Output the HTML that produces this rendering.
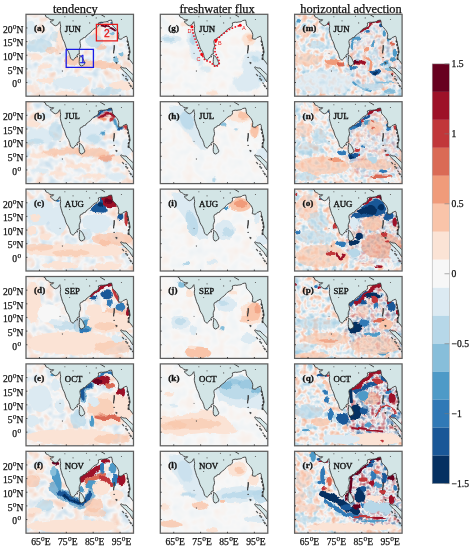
<!DOCTYPE html>
<html><head><meta charset="utf-8"><style>
html,body{margin:0;padding:0;background:#fff;}
body{width:473px;height:550px;position:relative;overflow:hidden;font-family:"Liberation Serif","Times New Roman",serif;color:#111;-webkit-text-stroke-width:0.25px;}
.map{position:absolute;display:block;}
.ov{position:absolute;left:0;top:0;}
.ov rect{fill:none;stroke:#5e5e5e;stroke-width:1.25;}
.L{fill:#d3e5e6;}
.C{fill:none;stroke:#333;stroke-width:0.85;vector-effect:non-scaling-stroke;}
polygon.L.C{fill:#d3e5e6;}
.plab{position:absolute;font-weight:bold;font-size:9.2px;line-height:10px;-webkit-text-stroke-width:0.3px;}
.mon{position:absolute;font-size:8.8px;line-height:10px;-webkit-text-stroke-width:0.35px;}
.red{position:absolute;color:#e61a1a;font-family:"Liberation Sans",sans-serif;line-height:10px;-webkit-text-stroke-width:0;}
.blu{position:absolute;color:#1a1ae6;font-family:"Liberation Sans",sans-serif;line-height:10px;-webkit-text-stroke-width:0;}
.ttl{position:absolute;text-align:center;font-size:12.4px;line-height:16px;white-space:nowrap;}
.yl{position:absolute;font-size:9.6px;line-height:13px;white-space:nowrap;text-align:right;}
.xl{position:absolute;width:60px;text-align:center;font-size:9.6px;line-height:13px;white-space:nowrap;}
sup{font-size:7.4px;vertical-align:0;position:relative;top:-3.9px;margin-left:0.3px;}
.cbs{position:absolute;left:0;top:0;}
.cb div{width:100%;}
.cbt{position:absolute;font-size:9.6px;line-height:14px;white-space:nowrap;}
.tk{position:absolute;width:3px;height:1px;background:#555;}
</style></head><body>
<svg width="0" height="0" style="position:absolute"><defs><filter id="bl" x="0" y="0" width="473" height="359" filterUnits="userSpaceOnUse" color-interpolation-filters="sRGB"><feTurbulence type="fractalNoise" baseFrequency="0.03" numOctaves="2" seed="7" result="t"/><feDisplacementMap in="SourceGraphic" in2="t" scale="20" xChannelSelector="R" yChannelSelector="G" result="d"/><feGaussianBlur in="d" stdDeviation="3.3"/></filter><clipPath id="bay"><polygon points="228,200 236,110 300,62 372,28 412,85 452,105 462,200 473,230 473,320 300,330 240,300 215,240"/></clipPath><filter id="nzT0" x="0" y="0" width="100%" height="100%" color-interpolation-filters="sRGB"><feTurbulence type="fractalNoise" baseFrequency="0.024" numOctaves="2" seed="10"/><feColorMatrix type="matrix" values="1 0 0 0 0  1 0 0 0 0  1 0 0 0 0  0 0 0 0 1"/><feComponentTransfer><feFuncR type="table" tableValues="0.769 0.769 0.777 0.841 0.905 0.969 0.971 0.974 0.976 0.976 0.976"/><feFuncG type="table" tableValues="0.863 0.863 0.867 0.901 0.935 0.969 0.916 0.863 0.811 0.804 0.804"/><feFuncB type="table" tableValues="0.925 0.925 0.927 0.941 0.955 0.969 0.887 0.806 0.724 0.714 0.714"/><feFuncA type="linear" slope="0" intercept="0.8"/></feComponentTransfer></filter><filter id="nzF0" x="0" y="0" width="100%" height="100%" color-interpolation-filters="sRGB"><feTurbulence type="fractalNoise" baseFrequency="0.02" numOctaves="2" seed="20"/><feColorMatrix type="matrix" values="1 0 0 0 0  1 0 0 0 0  1 0 0 0 0  0 0 0 0 1"/><feComponentTransfer><feFuncR type="table" tableValues="0.863 0.863 0.867 0.901 0.935 0.969 0.974 0.979 0.984 0.984 0.984"/><feFuncG type="table" tableValues="0.918 0.918 0.920 0.936 0.953 0.969 0.944 0.919 0.893 0.890 0.890"/><feFuncB type="table" tableValues="0.949 0.949 0.950 0.956 0.963 0.969 0.926 0.883 0.841 0.835 0.835"/><feFuncA type="linear" slope="0" intercept="0.35"/></feComponentTransfer></filter><filter id="nzS0" x="0" y="0" width="100%" height="100%" color-interpolation-filters="sRGB"><feTurbulence type="fractalNoise" baseFrequency="0.045" numOctaves="2" seed="40"/><feColorMatrix type="matrix" values="1 0 0 0 0  1 0 0 0 0  1 0 0 0 0  0 0 0 0 1"/><feComponentTransfer><feFuncR type="table" tableValues="0.098 0.098 0.133 0.412 0.690 0.969 0.856 0.743 0.630 0.616 0.616"/><feFuncG type="table" tableValues="0.341 0.341 0.366 0.567 0.768 0.969 0.680 0.392 0.103 0.067 0.067"/><feFuncB type="table" tableValues="0.592 0.592 0.607 0.728 0.848 0.969 0.709 0.449 0.189 0.157 0.157"/><feFuncA type="linear" slope="0" intercept="1"/></feComponentTransfer></filter><filter id="nzA0" x="0" y="0" width="100%" height="100%" color-interpolation-filters="sRGB"><feTurbulence type="fractalNoise" baseFrequency="0.038" numOctaves="2" seed="30"/><feColorMatrix type="matrix" values="1 0 0 0 0  1 0 0 0 0  1 0 0 0 0  0 0 0 0 1"/><feComponentTransfer><feFuncR type="table" tableValues="0.612 0.612 0.626 0.740 0.855 0.969 0.966 0.964 0.961 0.961 0.961"/><feFuncG type="table" tableValues="0.792 0.792 0.799 0.856 0.912 0.969 0.880 0.791 0.701 0.690 0.690"/><feFuncB type="table" tableValues="0.886 0.886 0.890 0.916 0.943 0.969 0.840 0.710 0.581 0.565 0.565"/><feFuncA type="linear" slope="0" intercept="0.9"/></feComponentTransfer></filter><filter id="nzT1" x="0" y="0" width="100%" height="100%" color-interpolation-filters="sRGB"><feTurbulence type="fractalNoise" baseFrequency="0.024" numOctaves="2" seed="11"/><feColorMatrix type="matrix" values="1 0 0 0 0  1 0 0 0 0  1 0 0 0 0  0 0 0 0 1"/><feComponentTransfer><feFuncR type="table" tableValues="0.769 0.769 0.777 0.841 0.905 0.969 0.971 0.974 0.976 0.976 0.976"/><feFuncG type="table" tableValues="0.863 0.863 0.867 0.901 0.935 0.969 0.916 0.863 0.811 0.804 0.804"/><feFuncB type="table" tableValues="0.925 0.925 0.927 0.941 0.955 0.969 0.887 0.806 0.724 0.714 0.714"/><feFuncA type="linear" slope="0" intercept="0.8"/></feComponentTransfer></filter><filter id="nzF1" x="0" y="0" width="100%" height="100%" color-interpolation-filters="sRGB"><feTurbulence type="fractalNoise" baseFrequency="0.02" numOctaves="2" seed="21"/><feColorMatrix type="matrix" values="1 0 0 0 0  1 0 0 0 0  1 0 0 0 0  0 0 0 0 1"/><feComponentTransfer><feFuncR type="table" tableValues="0.863 0.863 0.867 0.901 0.935 0.969 0.974 0.979 0.984 0.984 0.984"/><feFuncG type="table" tableValues="0.918 0.918 0.920 0.936 0.953 0.969 0.944 0.919 0.893 0.890 0.890"/><feFuncB type="table" tableValues="0.949 0.949 0.950 0.956 0.963 0.969 0.926 0.883 0.841 0.835 0.835"/><feFuncA type="linear" slope="0" intercept="0.35"/></feComponentTransfer></filter><filter id="nzS1" x="0" y="0" width="100%" height="100%" color-interpolation-filters="sRGB"><feTurbulence type="fractalNoise" baseFrequency="0.045" numOctaves="2" seed="41"/><feColorMatrix type="matrix" values="1 0 0 0 0  1 0 0 0 0  1 0 0 0 0  0 0 0 0 1"/><feComponentTransfer><feFuncR type="table" tableValues="0.098 0.098 0.133 0.412 0.690 0.969 0.856 0.743 0.630 0.616 0.616"/><feFuncG type="table" tableValues="0.341 0.341 0.366 0.567 0.768 0.969 0.680 0.392 0.103 0.067 0.067"/><feFuncB type="table" tableValues="0.592 0.592 0.607 0.728 0.848 0.969 0.709 0.449 0.189 0.157 0.157"/><feFuncA type="linear" slope="0" intercept="1"/></feComponentTransfer></filter><filter id="nzA1" x="0" y="0" width="100%" height="100%" color-interpolation-filters="sRGB"><feTurbulence type="fractalNoise" baseFrequency="0.038" numOctaves="2" seed="31"/><feColorMatrix type="matrix" values="1 0 0 0 0  1 0 0 0 0  1 0 0 0 0  0 0 0 0 1"/><feComponentTransfer><feFuncR type="table" tableValues="0.612 0.612 0.626 0.740 0.855 0.969 0.966 0.964 0.961 0.961 0.961"/><feFuncG type="table" tableValues="0.792 0.792 0.799 0.856 0.912 0.969 0.880 0.791 0.701 0.690 0.690"/><feFuncB type="table" tableValues="0.886 0.886 0.890 0.916 0.943 0.969 0.840 0.710 0.581 0.565 0.565"/><feFuncA type="linear" slope="0" intercept="0.9"/></feComponentTransfer></filter><filter id="nzT2" x="0" y="0" width="100%" height="100%" color-interpolation-filters="sRGB"><feTurbulence type="fractalNoise" baseFrequency="0.024" numOctaves="2" seed="12"/><feColorMatrix type="matrix" values="1 0 0 0 0  1 0 0 0 0  1 0 0 0 0  0 0 0 0 1"/><feComponentTransfer><feFuncR type="table" tableValues="0.769 0.769 0.777 0.841 0.905 0.969 0.971 0.974 0.976 0.976 0.976"/><feFuncG type="table" tableValues="0.863 0.863 0.867 0.901 0.935 0.969 0.916 0.863 0.811 0.804 0.804"/><feFuncB type="table" tableValues="0.925 0.925 0.927 0.941 0.955 0.969 0.887 0.806 0.724 0.714 0.714"/><feFuncA type="linear" slope="0" intercept="0.8"/></feComponentTransfer></filter><filter id="nzF2" x="0" y="0" width="100%" height="100%" color-interpolation-filters="sRGB"><feTurbulence type="fractalNoise" baseFrequency="0.02" numOctaves="2" seed="22"/><feColorMatrix type="matrix" values="1 0 0 0 0  1 0 0 0 0  1 0 0 0 0  0 0 0 0 1"/><feComponentTransfer><feFuncR type="table" tableValues="0.863 0.863 0.867 0.901 0.935 0.969 0.974 0.979 0.984 0.984 0.984"/><feFuncG type="table" tableValues="0.918 0.918 0.920 0.936 0.953 0.969 0.944 0.919 0.893 0.890 0.890"/><feFuncB type="table" tableValues="0.949 0.949 0.950 0.956 0.963 0.969 0.926 0.883 0.841 0.835 0.835"/><feFuncA type="linear" slope="0" intercept="0.35"/></feComponentTransfer></filter><filter id="nzS2" x="0" y="0" width="100%" height="100%" color-interpolation-filters="sRGB"><feTurbulence type="fractalNoise" baseFrequency="0.045" numOctaves="2" seed="42"/><feColorMatrix type="matrix" values="1 0 0 0 0  1 0 0 0 0  1 0 0 0 0  0 0 0 0 1"/><feComponentTransfer><feFuncR type="table" tableValues="0.098 0.098 0.133 0.412 0.690 0.969 0.856 0.743 0.630 0.616 0.616"/><feFuncG type="table" tableValues="0.341 0.341 0.366 0.567 0.768 0.969 0.680 0.392 0.103 0.067 0.067"/><feFuncB type="table" tableValues="0.592 0.592 0.607 0.728 0.848 0.969 0.709 0.449 0.189 0.157 0.157"/><feFuncA type="linear" slope="0" intercept="1"/></feComponentTransfer></filter><filter id="nzA2" x="0" y="0" width="100%" height="100%" color-interpolation-filters="sRGB"><feTurbulence type="fractalNoise" baseFrequency="0.038" numOctaves="2" seed="32"/><feColorMatrix type="matrix" values="1 0 0 0 0  1 0 0 0 0  1 0 0 0 0  0 0 0 0 1"/><feComponentTransfer><feFuncR type="table" tableValues="0.612 0.612 0.626 0.740 0.855 0.969 0.966 0.964 0.961 0.961 0.961"/><feFuncG type="table" tableValues="0.792 0.792 0.799 0.856 0.912 0.969 0.880 0.791 0.701 0.690 0.690"/><feFuncB type="table" tableValues="0.886 0.886 0.890 0.916 0.943 0.969 0.840 0.710 0.581 0.565 0.565"/><feFuncA type="linear" slope="0" intercept="0.9"/></feComponentTransfer></filter><filter id="nzT3" x="0" y="0" width="100%" height="100%" color-interpolation-filters="sRGB"><feTurbulence type="fractalNoise" baseFrequency="0.024" numOctaves="2" seed="13"/><feColorMatrix type="matrix" values="1 0 0 0 0  1 0 0 0 0  1 0 0 0 0  0 0 0 0 1"/><feComponentTransfer><feFuncR type="table" tableValues="0.769 0.769 0.777 0.841 0.905 0.969 0.971 0.974 0.976 0.976 0.976"/><feFuncG type="table" tableValues="0.863 0.863 0.867 0.901 0.935 0.969 0.916 0.863 0.811 0.804 0.804"/><feFuncB type="table" tableValues="0.925 0.925 0.927 0.941 0.955 0.969 0.887 0.806 0.724 0.714 0.714"/><feFuncA type="linear" slope="0" intercept="0.8"/></feComponentTransfer></filter><filter id="nzF3" x="0" y="0" width="100%" height="100%" color-interpolation-filters="sRGB"><feTurbulence type="fractalNoise" baseFrequency="0.02" numOctaves="2" seed="23"/><feColorMatrix type="matrix" values="1 0 0 0 0  1 0 0 0 0  1 0 0 0 0  0 0 0 0 1"/><feComponentTransfer><feFuncR type="table" tableValues="0.863 0.863 0.867 0.901 0.935 0.969 0.974 0.979 0.984 0.984 0.984"/><feFuncG type="table" tableValues="0.918 0.918 0.920 0.936 0.953 0.969 0.944 0.919 0.893 0.890 0.890"/><feFuncB type="table" tableValues="0.949 0.949 0.950 0.956 0.963 0.969 0.926 0.883 0.841 0.835 0.835"/><feFuncA type="linear" slope="0" intercept="0.35"/></feComponentTransfer></filter><filter id="nzS3" x="0" y="0" width="100%" height="100%" color-interpolation-filters="sRGB"><feTurbulence type="fractalNoise" baseFrequency="0.045" numOctaves="2" seed="43"/><feColorMatrix type="matrix" values="1 0 0 0 0  1 0 0 0 0  1 0 0 0 0  0 0 0 0 1"/><feComponentTransfer><feFuncR type="table" tableValues="0.098 0.098 0.133 0.412 0.690 0.969 0.856 0.743 0.630 0.616 0.616"/><feFuncG type="table" tableValues="0.341 0.341 0.366 0.567 0.768 0.969 0.680 0.392 0.103 0.067 0.067"/><feFuncB type="table" tableValues="0.592 0.592 0.607 0.728 0.848 0.969 0.709 0.449 0.189 0.157 0.157"/><feFuncA type="linear" slope="0" intercept="1"/></feComponentTransfer></filter><filter id="nzA3" x="0" y="0" width="100%" height="100%" color-interpolation-filters="sRGB"><feTurbulence type="fractalNoise" baseFrequency="0.038" numOctaves="2" seed="33"/><feColorMatrix type="matrix" values="1 0 0 0 0  1 0 0 0 0  1 0 0 0 0  0 0 0 0 1"/><feComponentTransfer><feFuncR type="table" tableValues="0.612 0.612 0.626 0.740 0.855 0.969 0.966 0.964 0.961 0.961 0.961"/><feFuncG type="table" tableValues="0.792 0.792 0.799 0.856 0.912 0.969 0.880 0.791 0.701 0.690 0.690"/><feFuncB type="table" tableValues="0.886 0.886 0.890 0.916 0.943 0.969 0.840 0.710 0.581 0.565 0.565"/><feFuncA type="linear" slope="0" intercept="0.9"/></feComponentTransfer></filter><filter id="nzT4" x="0" y="0" width="100%" height="100%" color-interpolation-filters="sRGB"><feTurbulence type="fractalNoise" baseFrequency="0.024" numOctaves="2" seed="14"/><feColorMatrix type="matrix" values="1 0 0 0 0  1 0 0 0 0  1 0 0 0 0  0 0 0 0 1"/><feComponentTransfer><feFuncR type="table" tableValues="0.769 0.769 0.777 0.841 0.905 0.969 0.971 0.974 0.976 0.976 0.976"/><feFuncG type="table" tableValues="0.863 0.863 0.867 0.901 0.935 0.969 0.916 0.863 0.811 0.804 0.804"/><feFuncB type="table" tableValues="0.925 0.925 0.927 0.941 0.955 0.969 0.887 0.806 0.724 0.714 0.714"/><feFuncA type="linear" slope="0" intercept="0.8"/></feComponentTransfer></filter><filter id="nzF4" x="0" y="0" width="100%" height="100%" color-interpolation-filters="sRGB"><feTurbulence type="fractalNoise" baseFrequency="0.02" numOctaves="2" seed="24"/><feColorMatrix type="matrix" values="1 0 0 0 0  1 0 0 0 0  1 0 0 0 0  0 0 0 0 1"/><feComponentTransfer><feFuncR type="table" tableValues="0.863 0.863 0.867 0.901 0.935 0.969 0.974 0.979 0.984 0.984 0.984"/><feFuncG type="table" tableValues="0.918 0.918 0.920 0.936 0.953 0.969 0.944 0.919 0.893 0.890 0.890"/><feFuncB type="table" tableValues="0.949 0.949 0.950 0.956 0.963 0.969 0.926 0.883 0.841 0.835 0.835"/><feFuncA type="linear" slope="0" intercept="0.35"/></feComponentTransfer></filter><filter id="nzS4" x="0" y="0" width="100%" height="100%" color-interpolation-filters="sRGB"><feTurbulence type="fractalNoise" baseFrequency="0.045" numOctaves="2" seed="44"/><feColorMatrix type="matrix" values="1 0 0 0 0  1 0 0 0 0  1 0 0 0 0  0 0 0 0 1"/><feComponentTransfer><feFuncR type="table" tableValues="0.098 0.098 0.133 0.412 0.690 0.969 0.856 0.743 0.630 0.616 0.616"/><feFuncG type="table" tableValues="0.341 0.341 0.366 0.567 0.768 0.969 0.680 0.392 0.103 0.067 0.067"/><feFuncB type="table" tableValues="0.592 0.592 0.607 0.728 0.848 0.969 0.709 0.449 0.189 0.157 0.157"/><feFuncA type="linear" slope="0" intercept="1"/></feComponentTransfer></filter><filter id="nzA4" x="0" y="0" width="100%" height="100%" color-interpolation-filters="sRGB"><feTurbulence type="fractalNoise" baseFrequency="0.038" numOctaves="2" seed="34"/><feColorMatrix type="matrix" values="1 0 0 0 0  1 0 0 0 0  1 0 0 0 0  0 0 0 0 1"/><feComponentTransfer><feFuncR type="table" tableValues="0.612 0.612 0.626 0.740 0.855 0.969 0.966 0.964 0.961 0.961 0.961"/><feFuncG type="table" tableValues="0.792 0.792 0.799 0.856 0.912 0.969 0.880 0.791 0.701 0.690 0.690"/><feFuncB type="table" tableValues="0.886 0.886 0.890 0.916 0.943 0.969 0.840 0.710 0.581 0.565 0.565"/><feFuncA type="linear" slope="0" intercept="0.9"/></feComponentTransfer></filter><filter id="nzT5" x="0" y="0" width="100%" height="100%" color-interpolation-filters="sRGB"><feTurbulence type="fractalNoise" baseFrequency="0.024" numOctaves="2" seed="15"/><feColorMatrix type="matrix" values="1 0 0 0 0  1 0 0 0 0  1 0 0 0 0  0 0 0 0 1"/><feComponentTransfer><feFuncR type="table" tableValues="0.769 0.769 0.777 0.841 0.905 0.969 0.971 0.974 0.976 0.976 0.976"/><feFuncG type="table" tableValues="0.863 0.863 0.867 0.901 0.935 0.969 0.916 0.863 0.811 0.804 0.804"/><feFuncB type="table" tableValues="0.925 0.925 0.927 0.941 0.955 0.969 0.887 0.806 0.724 0.714 0.714"/><feFuncA type="linear" slope="0" intercept="0.8"/></feComponentTransfer></filter><filter id="nzF5" x="0" y="0" width="100%" height="100%" color-interpolation-filters="sRGB"><feTurbulence type="fractalNoise" baseFrequency="0.02" numOctaves="2" seed="25"/><feColorMatrix type="matrix" values="1 0 0 0 0  1 0 0 0 0  1 0 0 0 0  0 0 0 0 1"/><feComponentTransfer><feFuncR type="table" tableValues="0.863 0.863 0.867 0.901 0.935 0.969 0.974 0.979 0.984 0.984 0.984"/><feFuncG type="table" tableValues="0.918 0.918 0.920 0.936 0.953 0.969 0.944 0.919 0.893 0.890 0.890"/><feFuncB type="table" tableValues="0.949 0.949 0.950 0.956 0.963 0.969 0.926 0.883 0.841 0.835 0.835"/><feFuncA type="linear" slope="0" intercept="0.35"/></feComponentTransfer></filter><filter id="nzS5" x="0" y="0" width="100%" height="100%" color-interpolation-filters="sRGB"><feTurbulence type="fractalNoise" baseFrequency="0.045" numOctaves="2" seed="45"/><feColorMatrix type="matrix" values="1 0 0 0 0  1 0 0 0 0  1 0 0 0 0  0 0 0 0 1"/><feComponentTransfer><feFuncR type="table" tableValues="0.098 0.098 0.133 0.412 0.690 0.969 0.856 0.743 0.630 0.616 0.616"/><feFuncG type="table" tableValues="0.341 0.341 0.366 0.567 0.768 0.969 0.680 0.392 0.103 0.067 0.067"/><feFuncB type="table" tableValues="0.592 0.592 0.607 0.728 0.848 0.969 0.709 0.449 0.189 0.157 0.157"/><feFuncA type="linear" slope="0" intercept="1"/></feComponentTransfer></filter><filter id="nzA5" x="0" y="0" width="100%" height="100%" color-interpolation-filters="sRGB"><feTurbulence type="fractalNoise" baseFrequency="0.038" numOctaves="2" seed="35"/><feColorMatrix type="matrix" values="1 0 0 0 0  1 0 0 0 0  1 0 0 0 0  0 0 0 0 1"/><feComponentTransfer><feFuncR type="table" tableValues="0.612 0.612 0.626 0.740 0.855 0.969 0.966 0.964 0.961 0.961 0.961"/><feFuncG type="table" tableValues="0.792 0.792 0.799 0.856 0.912 0.969 0.880 0.791 0.701 0.690 0.690"/><feFuncB type="table" tableValues="0.886 0.886 0.890 0.916 0.943 0.969 0.840 0.710 0.581 0.565 0.565"/><feFuncA type="linear" slope="0" intercept="0.9"/></feComponentTransfer></filter><g id="land"><polygon class="L" points="78.0,-7.2 78.0,0.0 79.2,1.8 85.1,3.6 87.5,12.0 94.6,15.6 99.3,18.0 104.1,22.7 112.3,25.1 121.8,25.1 118.2,29.9 108.8,31.1 105.8,33.5 113.5,40.7 123.0,49.1 130.1,51.5 136.0,49.1 143.1,44.3 145.4,38.3 149.0,33.5 150.2,40.7 151.4,46.7 152.5,55.0 150.8,65.8 151.4,73.0 153.7,83.8 157.3,95.7 160.8,107.7 163.2,113.7 166.7,119.7 170.3,128.0 173.8,140.0 175.6,146.0 179.7,154.4 182.1,158.0 186.8,165.1 188.6,169.9 191.6,177.1 192.7,180.7 193.9,186.7 196.3,193.9 201.0,199.3 207.5,202.5 214.0,196.3 215.2,192.7 221.1,187.9 228.2,187.9 224.1,183.1 228.2,175.9 234.7,175.9 234.7,169.9 234.1,161.6 234.7,155.6 238.9,144.8 240.0,137.6 238.3,129.2 237.1,119.7 240.0,112.5 246.0,110.1 250.7,108.3 251.9,104.1 256.6,103.5 263.7,100.5 263.7,96.9 268.4,93.3 275.5,87.4 283.8,81.4 290.9,73.0 296.8,67.0 305.1,62.2 312.2,59.8 318.1,52.7 319.3,45.5 318.1,39.5 325.2,37.1 331.1,35.9 334.6,36.5 339.4,36.5 344.1,35.3 350.0,34.7 355.9,33.5 359.5,32.3 361.8,29.9 364.2,28.7 370.1,27.5 376.0,26.3 378.4,33.5 379.6,43.1 381.9,51.5 385.5,55.0 389.0,58.6 392.6,62.2 397.3,68.2 402.0,74.2 405.6,81.4 408.0,89.8 408.0,96.9 405.6,107.7 409.1,108.9 413.9,110.1 418.6,110.7 423.3,107.7 428.1,102.9 435.2,100.5 441.1,96.9 445.2,101.7 445.8,108.9 447.0,116.1 450.5,125.7 451.7,137.6 455.3,149.6 456.4,158.0 457.6,167.5 455.3,175.9 452.9,183.1 452.9,191.5 452.9,201.0 456.4,199.8 460.0,204.6 464.7,210.6 469.5,217.8 473.0,222.6 480.1,227.4 480.1,-7.2"/>
<polyline class="C" points="78.0,0.0 79.2,1.8 85.1,3.6 87.5,12.0 94.6,15.6 99.3,18.0 104.1,22.7 112.3,25.1 121.8,25.1 118.2,29.9 108.8,31.1 105.8,33.5 113.5,40.7 123.0,49.1 130.1,51.5 136.0,49.1 143.1,44.3 145.4,38.3 149.0,33.5 150.2,40.7 151.4,46.7 152.5,55.0 150.8,65.8 151.4,73.0 153.7,83.8 157.3,95.7 160.8,107.7 163.2,113.7 166.7,119.7 170.3,128.0 173.8,140.0 175.6,146.0 179.7,154.4 182.1,158.0 186.8,165.1 188.6,169.9 191.6,177.1 192.7,180.7 193.9,186.7 196.3,193.9 201.0,199.3 207.5,202.5 214.0,196.3 215.2,192.7 221.1,187.9 228.2,187.9 224.1,183.1 228.2,175.9 234.7,175.9 234.7,169.9 234.1,161.6 234.7,155.6 238.9,144.8 240.0,137.6 238.3,129.2 237.1,119.7 240.0,112.5 246.0,110.1 250.7,108.3 251.9,104.1 256.6,103.5 263.7,100.5 263.7,96.9 268.4,93.3 275.5,87.4 283.8,81.4 290.9,73.0 296.8,67.0 305.1,62.2 312.2,59.8 318.1,52.7 319.3,45.5 318.1,39.5 325.2,37.1 331.1,35.9 334.6,36.5 339.4,36.5 344.1,35.3 350.0,34.7 355.9,33.5 359.5,32.3 361.8,29.9 364.2,28.7 370.1,27.5 376.0,26.3 378.4,33.5 379.6,43.1 381.9,51.5 385.5,55.0 389.0,58.6 392.6,62.2 397.3,68.2 402.0,74.2 405.6,81.4 408.0,89.8 408.0,96.9 405.6,107.7 409.1,108.9 413.9,110.1 418.6,110.7 423.3,107.7 428.1,102.9 435.2,100.5 441.1,96.9 445.2,101.7 445.8,108.9 447.0,116.1 450.5,125.7 451.7,137.6 455.3,149.6 456.4,158.0 457.6,167.5 455.3,175.9 452.9,183.1 452.9,191.5 452.9,201.0 456.4,199.8 460.0,204.6 464.7,210.6 469.5,217.8 473.0,222.6"/>
<polygon class="L C" points="234.7,181.9 238.9,181.9 246.0,189.1 250.7,196.3 254.2,204.6 258.4,213.0 257.8,219.0 251.9,225.0 243.6,228.0 237.7,225.0 234.7,216.6 234.1,208.2 234.7,199.8 235.3,192.7 236.5,186.7"/>
<polygon class="L C" points="387.9,136.4 389.0,138.8 389.0,149.6 387.3,160.4 386.1,166.3 385.5,172.3 384.9,165.1 386.7,155.6 387.3,146.0"/>
<polygon class="L C" points="395.0,211.8 400.9,213.0 399.7,217.8 397.3,217.8"/>
<polygon class="L C" points="386.7,189.1 388.5,189.1 387.9,192.7"/>
<polygon class="L C" points="423.3,264.5 425.7,265.1 431.6,270.5 429.2,271.7"/>
<polygon class="L C" points="438.7,272.8 441.1,272.8 439.9,275.2"/>
<polygon class="L C" points="437.5,282.4 441.1,281.2 448.2,288.4 447.0,292.0 443.4,290.8"/>
<polygon class="L C" points="451.7,301.6 455.3,302.8 454.1,305.2"/>
<polygon class="L C" points="456.4,311.1 460.0,311.1 464.7,318.3 462.4,320.7"/>
<polygon class="L C" points="467.1,324.3 469.5,324.3 471.8,329.1 469.5,329.1"/>
<polygon class="L C" points="149.0,172.3 150.2,172.3 150.2,173.5"/>
<polygon class="L C" points="159.6,248.9 160.8,248.9 160.2,251.3"/>
<polygon class="L" points="416.2,232.8 421.0,232.2 425.7,235.7 432.8,236.9 439.9,236.9 444.6,240.5 449.3,246.5 454.1,251.3 458.8,254.9 464.7,259.7 469.5,264.5 473.0,270.5 480.1,275.2 480.1,317.1 473.0,306.4 470.6,298.0 464.7,290.8 458.8,280.0 452.9,272.8 445.8,265.7 439.9,258.5 432.8,252.5 426.9,247.7 419.8,239.3"/>
<polyline class="C" points="321.6,-3.6 333.5,4.8 347.7,13.2"/>
<polyline class="C" style="stroke-width:1.5;stroke-dasharray:2.2 1.3" points="444.6,116.1 448.2,125.7 449.3,137.6 452.9,149.6 454.1,158.0 455.3,167.5 452.9,175.9 450.5,183.1 450.5,191.5 450.5,201.0"/>
<circle cx="266" cy="10" r="2.6" fill="#555"/>
<circle cx="280" cy="39" r="2.6" fill="#555"/>
<circle cx="309" cy="17" r="2.6" fill="#555"/>
<circle cx="207" cy="30" r="2.6" fill="#555"/>
<circle cx="192" cy="90" r="2.6" fill="#555"/>
<circle cx="225" cy="66" r="2.6" fill="#555"/>
<circle cx="420" cy="24" r="2.6" fill="#555"/>
<circle cx="171" cy="12" r="2.6" fill="#555"/>
<polyline class="C" points="416.2,232.8 421.0,232.2 425.7,235.7 432.8,236.9 439.9,236.9 444.6,240.5 449.3,246.5 454.1,251.3 458.8,254.9 464.7,259.7 469.5,264.5 473.0,270.5 470.6,298.0 464.7,290.8 458.8,280.0 452.9,272.8 445.8,265.7 439.9,258.5 432.8,252.5 426.9,247.7 419.8,239.3 416.2,232.8"/></g></defs></svg>
<svg class="map" style="left:26.0px;top:14.3px" width="107.5" height="81.9" viewBox="0 0 473 359" preserveAspectRatio="none">
<rect x="-30" y="-30" width="533" height="419" fill="#e9f0f5"/><rect x="-30" y="-30" width="533" height="419" filter="url(#nzT0)"/>
<g filter="url(#bl)"><ellipse cx="60" cy="140" rx="55" ry="30" fill="#b6d7e8" fill-opacity="0.6"/><ellipse cx="130" cy="100" rx="25" ry="20" fill="#b6d7e8" fill-opacity="0.5"/><ellipse cx="20" cy="60" rx="25" ry="30" fill="#dceaf2"/><ellipse cx="150" cy="110" rx="12" ry="40" fill="#fbe3d5"/><ellipse cx="110" cy="160" rx="25" ry="12" fill="#f9c4a9" fill-opacity="0.6"/><ellipse cx="45" cy="190" rx="28" ry="10" fill="#fbe3d5"/><ellipse cx="80" cy="230" rx="30" ry="10" fill="#fbe3d5"/><ellipse cx="205" cy="205" rx="38" ry="20" fill="#f9c4a9" fill-opacity="0.8"/><ellipse cx="265" cy="215" rx="30" ry="16" fill="#f9c4a9" fill-opacity="0.8"/><ellipse cx="335" cy="222" rx="55" ry="16" fill="#f9c4a9" fill-opacity="0.8"/><ellipse cx="395" cy="232" rx="30" ry="13" fill="#f9c4a9" fill-opacity="0.8"/><ellipse cx="330" cy="145" rx="25" ry="12" fill="#f9c4a9" fill-opacity="0.8"/><ellipse cx="300" cy="95" rx="18" ry="12" fill="#fbe3d5"/><ellipse cx="420" cy="315" rx="55" ry="20" fill="#fbe3d5"/><ellipse cx="90" cy="290" rx="45" ry="12" fill="#fbe3d5"/><ellipse cx="300" cy="118" rx="35" ry="28" fill="#b6d7e8" fill-opacity="0.7"/><ellipse cx="395" cy="200" rx="11" ry="15" fill="#87beda"/><ellipse cx="420" cy="175" rx="9" ry="11" fill="#87beda"/><ellipse cx="255" cy="80" rx="22" ry="14" fill="#b6d7e8" fill-opacity="0.7"/><ellipse cx="200" cy="300" rx="80" ry="30" fill="#dceaf2"/><ellipse cx="350" cy="340" rx="70" ry="16" fill="#b6d7e8" fill-opacity="0.6"/><ellipse cx="180" cy="350" rx="50" ry="10" fill="#fbe3d5"/><path d="M330,50C334,51 348,53 355,55C362,57 369,59 375,62C381,65 389,70 392,72" fill="none" stroke="#67001f" stroke-width="8" stroke-linecap="round"/><path d="M300,45C305,44 320,40 330,38C340,36 355,36 360,35" fill="none" stroke="#195797" stroke-width="7" stroke-linecap="round"/><ellipse cx="378" cy="40" rx="8" ry="5" fill="#3079b6"/><ellipse cx="398" cy="58" rx="6" ry="8" fill="#4e9ac7"/><ellipse cx="380" cy="85" rx="10" ry="8" fill="#87beda"/><ellipse cx="30" cy="330" rx="30" ry="18" fill="#fbe3d5" fill-opacity="0.7"/></g>
<use href="#land"/>
<rect x="176.9" y="154.7" width="119.7" height="79.3" fill="none" stroke="#1a1ae6" stroke-width="1.3" vector-effect="non-scaling-stroke"/><rect x="309.8" y="45.1" width="92.4" height="72.3" fill="none" stroke="#e61a1a" stroke-width="1.3" vector-effect="non-scaling-stroke"/>
</svg>
<div class="plab" style="left:34.0px;top:23.1px">(a)</div>
<div class="mon" style="left:64.8px;top:23.9px">JUN</div>
<svg class="map" style="left:26.0px;top:101.7px" width="107.5" height="81.9" viewBox="0 0 473 359" preserveAspectRatio="none">
<rect x="-30" y="-30" width="533" height="419" fill="#f0f3f6"/><rect x="-30" y="-30" width="533" height="419" filter="url(#nzT1)"/>
<g filter="url(#bl)"><ellipse cx="30" cy="95" rx="35" ry="15" fill="#fbe3d5"/><ellipse cx="80" cy="60" rx="30" ry="15" fill="#dceaf2"/><ellipse cx="60" cy="150" rx="60" ry="35" fill="#dceaf2"/><ellipse cx="130" cy="130" rx="30" ry="40" fill="#b6d7e8" fill-opacity="0.6"/><ellipse cx="40" cy="175" rx="40" ry="15" fill="#b6d7e8" fill-opacity="0.6"/><ellipse cx="160" cy="218" rx="90" ry="16" fill="#f9c4a9" fill-opacity="0.8" transform="rotate(-5 160 218)"/><ellipse cx="290" cy="222" rx="80" ry="20" fill="#f9c4a9" fill-opacity="0.8"/><ellipse cx="360" cy="245" rx="40" ry="14" fill="#f09b7a" fill-opacity="0.8"/><ellipse cx="420" cy="250" rx="40" ry="16" fill="#fbe3d5"/><ellipse cx="60" cy="235" rx="40" ry="12" fill="#fbe3d5"/><ellipse cx="290" cy="140" rx="55" ry="45" fill="#dceaf2"/><ellipse cx="338" cy="135" rx="10" ry="6" fill="#4e9ac7"/><ellipse cx="300" cy="160" rx="30" ry="20" fill="#b6d7e8" fill-opacity="0.6"/><path d="M300,62C304,59 317,49 325,45C333,41 342,38 350,36C358,34 372,31 376,30" fill="none" stroke="#195797" stroke-width="16" stroke-linecap="round"/><path d="M318,70C322,68 336,61 345,58C354,55 365,51 372,52C379,53 385,60 388,62" fill="none" stroke="#9d1128" stroke-width="14" stroke-linecap="round"/><ellipse cx="380" cy="75" rx="9" ry="9" fill="#c1373a"/><ellipse cx="340" cy="75" rx="20" ry="8" fill="#f09b7a"/><path d="M390,80C391,83 394,94 396,100C398,106 404,115 405,118" fill="none" stroke="#4e9ac7" stroke-width="14" stroke-linecap="round"/><ellipse cx="415" cy="117" rx="13" ry="8" fill="#195797"/><ellipse cx="438" cy="110" rx="11" ry="10" fill="#c1373a"/><ellipse cx="343" cy="135" rx="8" ry="6" fill="#4e9ac7"/><ellipse cx="140" cy="315" rx="40" ry="10" fill="#fbe3d5"/><ellipse cx="300" cy="325" rx="55" ry="10" fill="#fbe3d5"/><ellipse cx="230" cy="280" rx="60" ry="10" fill="#fbe3d5"/><ellipse cx="60" cy="300" rx="40" ry="10" fill="#dceaf2"/><ellipse cx="400" cy="330" rx="40" ry="15" fill="#dceaf2"/><ellipse cx="440" cy="200" rx="20" ry="40" fill="#dceaf2"/></g>
<use href="#land"/>

</svg>
<div class="plab" style="left:34.0px;top:110.5px">(b)</div>
<div class="mon" style="left:64.8px;top:111.3px">JUL</div>
<svg class="map" style="left:26.0px;top:189.1px" width="107.5" height="81.9" viewBox="0 0 473 359" preserveAspectRatio="none">
<rect x="-30" y="-30" width="533" height="419" fill="#edf2f6"/><rect x="-30" y="-30" width="533" height="419" filter="url(#nzT2)"/>
<g filter="url(#bl)"><ellipse cx="60" cy="100" rx="60" ry="60" fill="#dceaf2"/><ellipse cx="140" cy="140" rx="40" ry="60" fill="#dceaf2"/><ellipse cx="40" cy="125" rx="20" ry="15" fill="#fbe3d5"/><ellipse cx="85" cy="210" rx="25" ry="15" fill="#fbe3d5"/><ellipse cx="25" cy="180" rx="20" ry="20" fill="#fbe3d5"/><ellipse cx="140" cy="52" rx="9" ry="5" fill="#3079b6"/><ellipse cx="230" cy="270" rx="240" ry="28" fill="#fbe3d5"/><ellipse cx="380" cy="220" rx="90" ry="28" fill="#f9c4a9" fill-opacity="0.7"/><ellipse cx="350" cy="235" rx="30" ry="12" fill="#f9c4a9"/><ellipse cx="60" cy="255" rx="60" ry="16" fill="#f9c4a9" fill-opacity="0.6"/><ellipse cx="200" cy="280" rx="80" ry="15" fill="#f9c4a9" fill-opacity="0.6"/><ellipse cx="310" cy="150" rx="60" ry="40" fill="#dceaf2"/><ellipse cx="260" cy="200" rx="30" ry="25" fill="#b6d7e8" fill-opacity="0.5"/><polygon points="280,92 295,76 312,62 322,45 333,32 345,50 355,75 360,98 340,104 315,102 290,100" fill="#195797"/><ellipse cx="325" cy="70" rx="15" ry="12" fill="#053061"/><polygon points="335,36 355,30 378,25 395,55 400,78 375,80 355,78 340,66" fill="#9d1128"/><ellipse cx="365" cy="55" rx="16" ry="10" fill="#67001f"/><ellipse cx="415" cy="125" rx="13" ry="15" fill="#195797"/><ellipse cx="443" cy="130" rx="10" ry="33" fill="#c1373a"/><ellipse cx="360" cy="340" rx="60" ry="16" fill="#fbe3d5"/><ellipse cx="150" cy="335" rx="80" ry="15" fill="#fbe3d5"/></g>
<use href="#land"/>

</svg>
<div class="plab" style="left:34.0px;top:197.9px">(c)</div>
<div class="mon" style="left:64.8px;top:198.7px">AUG</div>
<svg class="map" style="left:26.0px;top:276.5px" width="107.5" height="81.9" viewBox="0 0 473 359" preserveAspectRatio="none">
<rect x="-30" y="-30" width="533" height="419" fill="#f6efec"/><rect x="-30" y="-30" width="533" height="419" filter="url(#nzT3)"/>
<g filter="url(#bl)"><ellipse cx="30" cy="110" rx="35" ry="90" fill="#fbe3d5"/><ellipse cx="100" cy="160" rx="50" ry="40" fill="#f7f7f7"/><ellipse cx="170" cy="215" rx="50" ry="20" fill="#b6d7e8" fill-opacity="0.7"/><ellipse cx="130" cy="200" rx="30" ry="15" fill="#dceaf2"/><ellipse cx="250" cy="215" rx="45" ry="40" fill="#87beda" fill-opacity="0.5"/><ellipse cx="262" cy="218" rx="28" ry="32" fill="#4e9ac7" transform="rotate(20 262 218)"/><ellipse cx="255" cy="235" rx="20" ry="11" fill="#3079b6"/><ellipse cx="400" cy="180" rx="70" ry="50" fill="#f9c4a9" fill-opacity="0.8"/><path d="M288,80C291,77 299,68 306,62C313,56 320,50 328,46C336,42 347,41 355,38C363,35 374,31 378,30" fill="none" stroke="#9d1128" stroke-width="18" stroke-linecap="round"/><path d="M385,55C387,59 391,72 395,80C399,88 408,101 410,105" fill="none" stroke="#c1373a" stroke-width="14" stroke-linecap="round"/><ellipse cx="355" cy="78" rx="28" ry="20" fill="#195797"/><ellipse cx="296" cy="92" rx="18" ry="7" fill="#195797"/><ellipse cx="365" cy="115" rx="12" ry="16" fill="#3079b6"/><ellipse cx="415" cy="132" rx="22" ry="16" fill="#3079b6"/><ellipse cx="452" cy="158" rx="12" ry="28" fill="#9d1128"/><ellipse cx="370" cy="200" rx="100" ry="45" fill="#fbe3d5"/><ellipse cx="350" cy="215" rx="50" ry="18" fill="#f9c4a9" fill-opacity="0.6"/><ellipse cx="200" cy="290" rx="200" ry="50" fill="#fbe3d5"/><ellipse cx="380" cy="310" rx="80" ry="30" fill="#f9c4a9" fill-opacity="0.6"/><ellipse cx="300" cy="150" rx="40" ry="30" fill="#fbe3d5"/><ellipse cx="410" cy="270" rx="30" ry="15" fill="#dceaf2"/></g>
<use href="#land"/>

</svg>
<div class="plab" style="left:34.0px;top:285.3px">(d)</div>
<div class="mon" style="left:64.8px;top:286.1px">SEP</div>
<svg class="map" style="left:26.0px;top:363.9px" width="107.5" height="81.9" viewBox="0 0 473 359" preserveAspectRatio="none">
<rect x="-30" y="-30" width="533" height="419" fill="#f1f3f5"/><rect x="-30" y="-30" width="533" height="419" filter="url(#nzT4)"/>
<g filter="url(#bl)"><ellipse cx="60" cy="150" rx="50" ry="60" fill="#dceaf2"/><ellipse cx="118" cy="50" rx="12" ry="8" fill="#4e9ac7"/><ellipse cx="130" cy="90" rx="20" ry="25" fill="#dceaf2"/><ellipse cx="30" cy="250" rx="30" ry="25" fill="#dceaf2"/><ellipse cx="150" cy="180" rx="20" ry="30" fill="#dceaf2"/><ellipse cx="330" cy="72" rx="42" ry="22" fill="#9d1128"/><ellipse cx="315" cy="80" rx="22" ry="12" fill="#67001f"/><path d="M318,52C322,50 336,44 345,42C354,40 364,36 372,38C380,40 389,52 392,55" fill="none" stroke="#3079b6" stroke-width="12" stroke-linecap="round"/><path d="M252,155C252,150 250,133 252,125C254,117 258,110 264,105C270,100 282,96 285,94" fill="none" stroke="#4e9ac7" stroke-width="28" stroke-linecap="round" stroke-opacity="0.7"/><path d="M250,150C250,146 248,132 250,125C252,118 256,110 262,105C268,100 281,94 285,92" fill="none" stroke="#195797" stroke-width="16" stroke-linecap="round"/><ellipse cx="416" cy="125" rx="20" ry="24" fill="#9d1128"/><ellipse cx="370" cy="95" rx="22" ry="14" fill="#da6a55"/><ellipse cx="370" cy="200" rx="100" ry="70" fill="#fbe3d5"/><ellipse cx="350" cy="232" rx="50" ry="13" fill="#da6a55"/><ellipse cx="400" cy="240" rx="20" ry="10" fill="#da6a55"/><ellipse cx="330" cy="190" rx="60" ry="40" fill="#f9c4a9" fill-opacity="0.6"/><ellipse cx="300" cy="165" rx="25" ry="20" fill="#dceaf2"/><ellipse cx="230" cy="240" rx="35" ry="40" fill="#b6d7e8" fill-opacity="0.7"/><ellipse cx="290" cy="255" rx="10" ry="25" fill="#4e9ac7"/><ellipse cx="200" cy="320" rx="200" ry="35" fill="#fbe3d5"/><ellipse cx="100" cy="310" rx="60" ry="20" fill="#fbe3d5"/><ellipse cx="380" cy="330" rx="80" ry="20" fill="#f9c4a9" fill-opacity="0.6"/></g>
<use href="#land"/>

</svg>
<div class="plab" style="left:34.0px;top:372.7px">(e)</div>
<div class="mon" style="left:64.8px;top:373.5px">OCT</div>
<svg class="map" style="left:26.0px;top:451.3px" width="107.5" height="81.9" viewBox="0 0 473 359" preserveAspectRatio="none">
<rect x="-30" y="-30" width="533" height="419" fill="#f4f2f2"/><rect x="-30" y="-30" width="533" height="419" filter="url(#nzT5)"/>
<g filter="url(#bl)"><ellipse cx="130" cy="55" rx="16" ry="9" fill="#67001f"/><ellipse cx="135" cy="120" rx="18" ry="50" fill="#4e9ac7" transform="rotate(-15 135 120)"/><ellipse cx="120" cy="90" rx="14" ry="20" fill="#87beda"/><path d="M120,160C125,164 139,178 150,185C161,192 174,199 185,205C196,211 205,218 215,222C225,226 236,233 245,232C254,231 261,225 268,218C275,211 282,195 285,190" fill="none" stroke="#4e9ac7" stroke-width="42" stroke-linecap="round" stroke-opacity="0.7"/><path d="M150,180C155,183 170,194 180,200C190,206 200,213 210,218C220,223 231,228 240,228C249,228 258,221 265,215C272,209 278,194 280,190" fill="none" stroke="#195797" stroke-width="22" stroke-linecap="round"/><path d="M165,195C171,198 188,210 200,215C212,220 225,228 235,228C245,228 258,215 262,212" fill="none" stroke="#053061" stroke-width="9" stroke-linecap="round"/><path d="M245,125C250,122 265,112 275,105C285,98 296,91 305,85C314,79 326,72 330,70" fill="none" stroke="#9d1128" stroke-width="26" stroke-linecap="round"/><path d="M268,135C273,132 288,124 300,118C312,112 332,105 338,102" fill="none" stroke="#da6a55" stroke-width="20" stroke-linecap="round"/><ellipse cx="352" cy="45" rx="18" ry="10" fill="#9d1128"/><ellipse cx="336" cy="75" rx="12" ry="25" fill="#3079b6"/><ellipse cx="383" cy="75" rx="15" ry="25" fill="#4e9ac7"/><path d="M330,118C334,120 345,124 352,128C359,132 369,142 372,145" fill="none" stroke="#c1373a" stroke-width="24" stroke-linecap="round"/><ellipse cx="418" cy="125" rx="20" ry="25" fill="#9d1128"/><ellipse cx="390" cy="125" rx="12" ry="25" fill="#3079b6"/><ellipse cx="290" cy="150" rx="28" ry="22" fill="#4e9ac7"/><ellipse cx="245" cy="170" rx="10" ry="12" fill="#4e9ac7"/><ellipse cx="330" cy="160" rx="40" ry="30" fill="#fbe3d5"/><ellipse cx="300" cy="240" rx="40" ry="30" fill="#f9c4a9" fill-opacity="0.7"/><ellipse cx="400" cy="195" rx="30" ry="25" fill="#fbe3d5"/><ellipse cx="30" cy="130" rx="30" ry="25" fill="#f9c4a9" fill-opacity="0.7"/><ellipse cx="60" cy="80" rx="20" ry="15" fill="#fbe3d5"/><ellipse cx="80" cy="240" rx="40" ry="25" fill="#b6d7e8" fill-opacity="0.7"/><ellipse cx="40" cy="260" rx="30" ry="12" fill="#fbe3d5"/><ellipse cx="200" cy="330" rx="200" ry="30" fill="#fbe3d5"/><ellipse cx="300" cy="270" rx="50" ry="20" fill="#f9c4a9" fill-opacity="0.6"/></g>
<use href="#land"/>

</svg>
<div class="plab" style="left:34.0px;top:460.1px">(f)</div>
<div class="mon" style="left:64.8px;top:460.9px">NOV</div>
<svg class="map" style="left:160.3px;top:14.3px" width="107.5" height="81.9" viewBox="0 0 473 359" preserveAspectRatio="none">
<rect x="-30" y="-30" width="533" height="419" fill="#f7f7f7"/><rect x="-30" y="-30" width="533" height="419" filter="url(#nzF0)"/>
<g filter="url(#bl)"><ellipse cx="45" cy="110" rx="50" ry="18" fill="#dceaf2"/><ellipse cx="40" cy="110" rx="25" ry="10" fill="#b6d7e8" fill-opacity="0.7"/><ellipse cx="150" cy="140" rx="25" ry="70" fill="#dceaf2" transform="rotate(-15 150 140)"/><ellipse cx="145" cy="110" rx="10" ry="22" fill="#b6d7e8"/><ellipse cx="180" cy="215" rx="15" ry="15" fill="#dceaf2"/><ellipse cx="390" cy="110" rx="30" ry="28" fill="#fbe3d5"/><ellipse cx="395" cy="105" rx="15" ry="15" fill="#f9c4a9"/><ellipse cx="110" cy="45" rx="20" ry="12" fill="#fbe3d5"/><ellipse cx="420" cy="230" rx="60" ry="70" fill="#dceaf2"/><ellipse cx="380" cy="300" rx="60" ry="40" fill="#dceaf2"/><ellipse cx="420" cy="200" rx="15" ry="15" fill="#b6d7e8" fill-opacity="0.7"/><ellipse cx="450" cy="280" rx="20" ry="20" fill="#b6d7e8" fill-opacity="0.7"/><ellipse cx="230" cy="345" rx="30" ry="12" fill="#fbe3d5"/><ellipse cx="200" cy="240" rx="20" ry="12" fill="#dceaf2"/></g>
<use href="#land"/>
<circle cx="140.8" cy="55.7" r="4.0" fill="#ea1020"/><circle cx="143.1" cy="69.5" r="4.0" fill="#ea1020"/><circle cx="145.4" cy="83.4" r="4.0" fill="#ea1020"/><circle cx="149.5" cy="96.7" r="4.0" fill="#ea1020"/><circle cx="154.4" cy="109.9" r="4.0" fill="#ea1020"/><circle cx="159.4" cy="123.0" r="4.0" fill="#ea1020"/><circle cx="164.4" cy="136.1" r="4.0" fill="#ea1020"/><circle cx="169.7" cy="149.1" r="4.0" fill="#ea1020"/><circle cx="176.0" cy="161.6" r="4.0" fill="#ea1020"/><circle cx="182.4" cy="174.1" r="4.0" fill="#ea1020"/><circle cx="188.9" cy="186.5" r="4.0" fill="#ea1020"/><circle cx="195.5" cy="198.9" r="4.0" fill="#ea1020"/><circle cx="207.0" cy="205.6" r="4.0" fill="#ea1020"/><circle cx="220.2" cy="210.4" r="4.0" fill="#ea1020"/><circle cx="230.4" cy="218.9" r="4.0" fill="#ea1020"/><circle cx="239.9" cy="228.0" r="4.0" fill="#ea1020"/><circle cx="252.0" cy="227.5" r="4.0" fill="#ea1020"/><circle cx="260.5" cy="216.9" r="4.0" fill="#ea1020"/><circle cx="259.3" cy="203.1" r="4.0" fill="#ea1020"/><circle cx="253.4" cy="190.4" r="4.0" fill="#ea1020"/><circle cx="247.3" cy="177.8" r="4.0" fill="#ea1020"/><circle cx="242.0" cy="165.2" r="4.0" fill="#ea1020"/><circle cx="242.6" cy="151.2" r="4.0" fill="#ea1020"/><circle cx="244.1" cy="137.2" r="4.0" fill="#ea1020"/><circle cx="245.1" cy="123.2" r="4.0" fill="#ea1020"/><circle cx="250.8" cy="111.5" r="4.0" fill="#ea1020"/><circle cx="260.9" cy="101.6" r="4.0" fill="#ea1020"/><circle cx="271.5" cy="92.5" r="4.0" fill="#ea1020"/><circle cx="282.5" cy="83.7" r="4.0" fill="#ea1020"/><circle cx="293.9" cy="75.5" r="4.0" fill="#ea1020"/><circle cx="305.5" cy="67.5" r="4.0" fill="#ea1020"/><circle cx="318.4" cy="62.0" r="4.0" fill="#ea1020"/><circle cx="331.5" cy="56.8" r="4.0" fill="#ea1020"/><circle cx="344.7" cy="52.1" r="4.0" fill="#ea1020"/><circle cx="140.8" cy="55.7" r="6.8" fill="#f00a14"/><circle cx="184.4" cy="178.0" r="6.8" fill="#f00a14"/><circle cx="245.5" cy="116.6" r="6.8" fill="#f00a14"/><circle cx="352.9" cy="49.1" r="6.8" fill="#f00a14"/>
</svg>
<div class="plab" style="left:168.3px;top:23.1px">(g)</div>
<div class="mon" style="left:199.1px;top:23.9px">JUN</div>
<svg class="map" style="left:160.3px;top:101.7px" width="107.5" height="81.9" viewBox="0 0 473 359" preserveAspectRatio="none">
<rect x="-30" y="-30" width="533" height="419" fill="#f7f7f7"/><rect x="-30" y="-30" width="533" height="419" filter="url(#nzF1)"/>
<g filter="url(#bl)"><polygon points="40,20 150,20 170,80 205,205 180,210 110,130 50,60" fill="#dceaf2"/><ellipse cx="120" cy="80" rx="30" ry="40" fill="#b6d7e8" fill-opacity="0.8" transform="rotate(-20 120 80)"/><ellipse cx="345" cy="65" rx="55" ry="25" fill="#fbe3d5"/><ellipse cx="370" cy="60" rx="25" ry="14" fill="#f9c4a9"/><ellipse cx="415" cy="120" rx="20" ry="35" fill="#f9c4a9"/><ellipse cx="420" cy="110" rx="8" ry="12" fill="#f09b7a"/><ellipse cx="275" cy="97" rx="14" ry="8" fill="#87beda"/><ellipse cx="330" cy="120" rx="8" ry="6" fill="#b6d7e8"/><ellipse cx="450" cy="230" rx="25" ry="30" fill="#dceaf2"/><ellipse cx="240" cy="340" rx="10" ry="8" fill="#b6d7e8"/></g>
<use href="#land"/>

</svg>
<div class="plab" style="left:168.3px;top:110.5px">(h)</div>
<div class="mon" style="left:199.1px;top:111.3px">JUL</div>
<svg class="map" style="left:160.3px;top:189.1px" width="107.5" height="81.9" viewBox="0 0 473 359" preserveAspectRatio="none">
<rect x="-30" y="-30" width="533" height="419" fill="#f7f7f7"/><rect x="-30" y="-30" width="533" height="419" filter="url(#nzF2)"/>
<g filter="url(#bl)"><polygon points="50,20 150,20 180,100 208,215 170,225 110,130 60,60" fill="#dceaf2"/><ellipse cx="140" cy="150" rx="25" ry="55" fill="#b6d7e8" fill-opacity="0.8" transform="rotate(-15 140 150)"/><ellipse cx="285" cy="180" rx="45" ry="45" fill="#dceaf2"/><ellipse cx="300" cy="190" rx="25" ry="20" fill="#b6d7e8" fill-opacity="0.7"/><ellipse cx="350" cy="70" rx="50" ry="30" fill="#f9c4a9"/><ellipse cx="355" cy="65" rx="30" ry="15" fill="#f09b7a"/><ellipse cx="292" cy="86" rx="11" ry="7" fill="#4e9ac7"/><ellipse cx="425" cy="125" rx="14" ry="25" fill="#dceaf2"/><ellipse cx="450" cy="225" rx="25" ry="25" fill="#dceaf2"/><ellipse cx="115" cy="330" rx="16" ry="8" fill="#b6d7e8"/><ellipse cx="230" cy="320" rx="25" ry="10" fill="#dceaf2"/></g>
<use href="#land"/>

</svg>
<div class="plab" style="left:168.3px;top:197.9px">(i)</div>
<div class="mon" style="left:199.1px;top:198.7px">AUG</div>
<svg class="map" style="left:160.3px;top:276.5px" width="107.5" height="81.9" viewBox="0 0 473 359" preserveAspectRatio="none">
<rect x="-30" y="-30" width="533" height="419" fill="#f7f7f7"/><rect x="-30" y="-30" width="533" height="419" filter="url(#nzF3)"/>
<g filter="url(#bl)"><ellipse cx="90" cy="200" rx="45" ry="30" fill="#dceaf2"/><ellipse cx="90" cy="195" rx="25" ry="16" fill="#b6d7e8" fill-opacity="0.7"/><ellipse cx="145" cy="235" rx="15" ry="25" fill="#dceaf2"/><ellipse cx="95" cy="35" rx="15" ry="12" fill="#87beda"/><ellipse cx="290" cy="120" rx="45" ry="32" fill="#dceaf2"/><ellipse cx="280" cy="115" rx="18" ry="12" fill="#b6d7e8" fill-opacity="0.7"/><ellipse cx="275" cy="225" rx="10" ry="10" fill="#87beda"/><ellipse cx="390" cy="270" rx="35" ry="20" fill="#dceaf2"/><ellipse cx="450" cy="230" rx="25" ry="30" fill="#dceaf2"/><ellipse cx="405" cy="160" rx="50" ry="50" fill="#fbe3d5"/><ellipse cx="410" cy="155" rx="32" ry="42" fill="#f9c4a9"/><ellipse cx="430" cy="140" rx="14" ry="20" fill="#f09b7a" fill-opacity="0.7"/><ellipse cx="375" cy="185" rx="20" ry="15" fill="#f9c4a9" fill-opacity="0.7"/><ellipse cx="320" cy="70" rx="20" ry="10" fill="#fbe3d5"/><ellipse cx="130" cy="75" rx="20" ry="18" fill="#fbe3d5"/><ellipse cx="165" cy="330" rx="60" ry="25" fill="#f9c4a9"/><ellipse cx="140" cy="310" rx="20" ry="10" fill="#fbe3d5"/></g>
<use href="#land"/>

</svg>
<div class="plab" style="left:168.3px;top:285.3px">(j)</div>
<div class="mon" style="left:199.1px;top:286.1px">SEP</div>
<svg class="map" style="left:160.3px;top:363.9px" width="107.5" height="81.9" viewBox="0 0 473 359" preserveAspectRatio="none">
<rect x="-30" y="-30" width="533" height="419" fill="#f7f7f7"/><rect x="-30" y="-30" width="533" height="419" filter="url(#nzF4)"/>
<g filter="url(#bl)"><polygon points="240,115 262,100 300,70 330,55 360,48 390,60 420,100 460,110 473,130 473,200 420,200 360,190 300,175 260,160" fill="#dceaf2"/><ellipse cx="355" cy="105" rx="95" ry="50" fill="#b6d7e8" fill-opacity="0.85"/><ellipse cx="290" cy="95" rx="28" ry="16" fill="#87beda"/><ellipse cx="420" cy="115" rx="22" ry="16" fill="#87beda"/><ellipse cx="380" cy="90" rx="35" ry="22" fill="#87beda" fill-opacity="0.6"/><ellipse cx="330" cy="80" rx="30" ry="14" fill="#87beda" fill-opacity="0.6"/><polygon points="0,232 100,228 150,212 200,198 245,212 300,248 335,282 300,306 200,300 100,312 0,306" fill="#fbe3d5"/><ellipse cx="150" cy="262" rx="120" ry="22" fill="#f9c4a9" fill-opacity="0.6"/><ellipse cx="60" cy="270" rx="60" ry="18" fill="#f9c4a9" fill-opacity="0.6"/><ellipse cx="200" cy="222" rx="55" ry="16" fill="#fbe3d5"/><ellipse cx="40" cy="130" rx="20" ry="8" fill="#fbe3d5"/><ellipse cx="60" cy="185" rx="20" ry="6" fill="#dceaf2"/><ellipse cx="280" cy="295" rx="60" ry="12" fill="#fbe3d5"/></g>
<use href="#land"/>

</svg>
<div class="plab" style="left:168.3px;top:372.7px">(k)</div>
<div class="mon" style="left:199.1px;top:373.5px">OCT</div>
<svg class="map" style="left:160.3px;top:451.3px" width="107.5" height="81.9" viewBox="0 0 473 359" preserveAspectRatio="none">
<rect x="-30" y="-30" width="533" height="419" fill="#f7f7f7"/><rect x="-30" y="-30" width="533" height="419" filter="url(#nzF5)"/>
<g filter="url(#bl)"><polygon points="40,20 150,20 170,100 205,210 170,225 100,160 50,80" fill="#dceaf2"/><ellipse cx="125" cy="190" rx="35" ry="10" fill="#b6d7e8" fill-opacity="0.8"/><ellipse cx="110" cy="90" rx="30" ry="50" fill="#b6d7e8" fill-opacity="0.45" transform="rotate(-20 110 90)"/><ellipse cx="350" cy="190" rx="125" ry="36" fill="#dceaf2" transform="rotate(-5 350 190)"/><ellipse cx="360" cy="190" rx="90" ry="16" fill="#b6d7e8" fill-opacity="0.8" transform="rotate(-5 360 190)"/><ellipse cx="440" cy="200" rx="30" ry="30" fill="#b6d7e8" fill-opacity="0.8"/><ellipse cx="340" cy="80" rx="42" ry="32" fill="#fbe3d5"/><ellipse cx="410" cy="125" rx="25" ry="25" fill="#fbe3d5"/><ellipse cx="350" cy="85" rx="22" ry="16" fill="#f9c4a9" fill-opacity="0.8"/><ellipse cx="20" cy="245" rx="20" ry="12" fill="#fbe3d5"/><ellipse cx="175" cy="240" rx="35" ry="18" fill="#f9c4a9" fill-opacity="0.8"/><ellipse cx="50" cy="320" rx="50" ry="15" fill="#f9c4a9" fill-opacity="0.8"/><ellipse cx="230" cy="345" rx="30" ry="12" fill="#fbe3d5"/><ellipse cx="275" cy="220" rx="12" ry="8" fill="#f9c4a9"/><ellipse cx="420" cy="300" rx="50" ry="15" fill="#dceaf2"/></g>
<use href="#land"/>

</svg>
<div class="plab" style="left:168.3px;top:460.1px">(l)</div>
<div class="mon" style="left:199.1px;top:460.9px">NOV</div>
<svg class="map" style="left:294.6px;top:14.3px" width="107.5" height="81.9" viewBox="0 0 473 359" preserveAspectRatio="none">
<rect x="-30" y="-30" width="533" height="419" fill="#eef0f3"/><rect x="-30" y="-30" width="533" height="419" filter="url(#nzA0)"/><rect x="-30" y="-30" width="533" height="419" filter="url(#nzS0)" clip-path="url(#bay)" opacity="0.15"/>
<g filter="url(#bl)"><ellipse cx="130" cy="300" rx="130" ry="50" fill="#dceaf2" fill-opacity="0.7"/><ellipse cx="60" cy="200" rx="60" ry="25" fill="#f9c4a9" fill-opacity="0.6"/><ellipse cx="40" cy="80" rx="30" ry="20" fill="#f9c4a9" fill-opacity="0.5"/><ellipse cx="95" cy="135" rx="35" ry="18" fill="#b6d7e8" fill-opacity="0.6"/><ellipse cx="170" cy="212" rx="40" ry="12" fill="#f09b7a"/><ellipse cx="150" cy="205" rx="20" ry="8" fill="#f09b7a"/><ellipse cx="200" cy="220" rx="15" ry="10" fill="#da6a55"/><ellipse cx="285" cy="213" rx="28" ry="10" fill="#9d1128"/><ellipse cx="268" cy="208" rx="14" ry="7" fill="#67001f"/><ellipse cx="256" cy="235" rx="16" ry="8" fill="#3079b6"/><path d="M315,190C318,194 332,206 335,215C338,224 331,240 330,245" fill="none" stroke="#f09b7a" stroke-width="12" stroke-linecap="round"/><ellipse cx="355" cy="255" rx="24" ry="12" fill="#195797"/><ellipse cx="350" cy="257" rx="12" ry="7" fill="#053061"/><ellipse cx="395" cy="215" rx="18" ry="8" fill="#4e9ac7" transform="rotate(-30 395 215)"/><ellipse cx="430" cy="200" rx="14" ry="8" fill="#4e9ac7" transform="rotate(-40 430 200)"/><ellipse cx="415" cy="240" rx="20" ry="6" fill="#87beda"/><ellipse cx="440" cy="170" rx="10" ry="18" fill="#4e9ac7"/><ellipse cx="426" cy="262" rx="8" ry="6" fill="#c1373a"/><path d="M256,300C262,304 277,319 290,325C303,331 328,336 336,338" fill="none" stroke="#4e9ac7" stroke-width="9" stroke-linecap="round"/><ellipse cx="400" cy="300" rx="38" ry="5" fill="#87beda"/><path d="M250,150C250,147 250,136 252,130C254,124 260,117 262,114" fill="none" stroke="#4e9ac7" stroke-width="10" stroke-linecap="round"/><ellipse cx="275" cy="108" rx="14" ry="9" fill="#4e9ac7"/><ellipse cx="318" cy="80" rx="12" ry="7" fill="#3079b6"/><path d="M292,78C295,76 303,70 308,66C313,62 318,59 322,55C326,51 330,45 335,42C340,39 348,38 355,36C362,34 372,31 375,30" fill="none" stroke="#9d1128" stroke-width="12" stroke-linecap="round"/><ellipse cx="378" cy="50" rx="8" ry="8" fill="#195797"/><ellipse cx="393" cy="85" rx="7" ry="14" fill="#4e9ac7"/><ellipse cx="413" cy="112" rx="12" ry="9" fill="#4e9ac7"/><ellipse cx="343" cy="130" rx="8" ry="10" fill="#4e9ac7"/><ellipse cx="316" cy="152" rx="15" ry="12" fill="#f09b7a"/><ellipse cx="426" cy="132" rx="14" ry="7" fill="#da6a55"/><ellipse cx="330" cy="320" rx="60" ry="15" fill="#b6d7e8" fill-opacity="0.7"/><ellipse cx="420" cy="340" rx="30" ry="10" fill="#87beda"/><ellipse cx="15" cy="30" rx="10" ry="8" fill="#4e9ac7"/><ellipse cx="146" cy="42" rx="5" ry="7" fill="#9d1128"/></g>
<use href="#land"/>

</svg>
<div class="plab" style="left:302.6px;top:23.1px">(m)</div>
<div class="mon" style="left:333.4px;top:23.9px">JUN</div>
<svg class="map" style="left:294.6px;top:101.7px" width="107.5" height="81.9" viewBox="0 0 473 359" preserveAspectRatio="none">
<rect x="-30" y="-30" width="533" height="419" fill="#f2eeed"/><rect x="-30" y="-30" width="533" height="419" filter="url(#nzA1)"/><rect x="-30" y="-30" width="533" height="419" filter="url(#nzS1)" clip-path="url(#bay)" opacity="0.25"/>
<g filter="url(#bl)"><ellipse cx="40" cy="120" rx="35" ry="30" fill="#f9c4a9" fill-opacity="0.5"/><ellipse cx="105" cy="150" rx="30" ry="35" fill="#b6d7e8" fill-opacity="0.6"/><ellipse cx="147" cy="42" rx="4" ry="5" fill="#195797"/><ellipse cx="120" cy="280" rx="120" ry="40" fill="#f9c4a9" fill-opacity="0.65"/><ellipse cx="175" cy="255" rx="35" ry="8" fill="#f09b7a"/><ellipse cx="350" cy="275" rx="110" ry="22" fill="#f9c4a9" fill-opacity="0.65"/><ellipse cx="376" cy="328" rx="50" ry="6" fill="#da6a55"/><ellipse cx="256" cy="235" rx="22" ry="14" fill="#195797"/><ellipse cx="250" cy="240" rx="12" ry="8" fill="#053061"/><ellipse cx="274" cy="210" rx="12" ry="9" fill="#c1373a"/><ellipse cx="280" cy="236" rx="7" ry="5" fill="#c1373a"/><ellipse cx="300" cy="195" rx="10" ry="5" fill="#3079b6"/><ellipse cx="207" cy="222" rx="18" ry="11" fill="#3079b6"/><path d="M268,108C270,106 277,99 282,95C287,91 291,86 296,82C301,78 305,75 310,72C315,69 322,64 324,62" fill="none" stroke="#195797" stroke-width="14" stroke-linecap="round"/><path d="M322,50C326,48 338,43 345,40C352,37 360,36 365,34C370,32 376,31 378,30" fill="none" stroke="#9d1128" stroke-width="16" stroke-linecap="round"/><ellipse cx="298" cy="86" rx="7" ry="7" fill="#c1373a"/><ellipse cx="320" cy="92" rx="12" ry="9" fill="#4e9ac7"/><ellipse cx="258" cy="116" rx="15" ry="8" fill="#3079b6"/><ellipse cx="350" cy="110" rx="35" ry="30" fill="#f9c4a9" fill-opacity="0.7"/><ellipse cx="340" cy="115" rx="8" ry="6" fill="#da6a55"/><ellipse cx="345" cy="85" rx="7" ry="5" fill="#da6a55"/><ellipse cx="411" cy="110" rx="12" ry="18" fill="#3079b6"/><ellipse cx="441" cy="112" rx="8" ry="10" fill="#c1373a"/><ellipse cx="388" cy="305" rx="18" ry="9" fill="#3079b6"/><ellipse cx="406" cy="232" rx="9" ry="5" fill="#c1373a"/><ellipse cx="341" cy="250" rx="15" ry="15" fill="#b6d7e8"/><ellipse cx="50" cy="330" rx="50" ry="20" fill="#b6d7e8" fill-opacity="0.6"/><ellipse cx="60" cy="205" rx="60" ry="25" fill="#b6d7e8" fill-opacity="0.5"/></g>
<use href="#land"/>

</svg>
<div class="plab" style="left:302.6px;top:110.5px">(n)</div>
<div class="mon" style="left:333.4px;top:111.3px">JUL</div>
<svg class="map" style="left:294.6px;top:189.1px" width="107.5" height="81.9" viewBox="0 0 473 359" preserveAspectRatio="none">
<rect x="-30" y="-30" width="533" height="419" fill="#f3ede9"/><rect x="-30" y="-30" width="533" height="419" filter="url(#nzA2)"/><rect x="-30" y="-30" width="533" height="419" filter="url(#nzS2)" clip-path="url(#bay)" opacity="0.35"/>
<g filter="url(#bl)"><ellipse cx="55" cy="80" rx="45" ry="55" fill="#f9c4a9" fill-opacity="0.5"/><ellipse cx="100" cy="140" rx="45" ry="40" fill="#b6d7e8" fill-opacity="0.5"/><ellipse cx="122" cy="42" rx="15" ry="7" fill="#3079b6"/><ellipse cx="110" cy="45" rx="5" ry="4" fill="#c1373a"/><ellipse cx="5" cy="22" rx="5" ry="8" fill="#c1373a"/><ellipse cx="175" cy="165" rx="9" ry="13" fill="#c1373a"/><ellipse cx="90" cy="210" rx="90" ry="28" fill="#b6d7e8" fill-opacity="0.55"/><ellipse cx="200" cy="240" rx="20" ry="10" fill="#3079b6"/><ellipse cx="10" cy="187" rx="10" ry="8" fill="#3079b6"/><ellipse cx="118" cy="295" rx="118" ry="50" fill="#f9c4a9" fill-opacity="0.6"/><ellipse cx="160" cy="280" rx="20" ry="9" fill="#c1373a"/><path d="M187,283C189,287 195,308 200,308C205,308 215,289 218,285" fill="none" stroke="#9d1128" stroke-width="10" stroke-linecap="round"/><polygon points="245,125 262,112 285,92 305,75 322,58 345,50 368,45 388,58 402,88 390,110 365,122 350,135 330,128 310,122 290,126 265,132" fill="#195797"/><ellipse cx="336" cy="92" rx="25" ry="22" fill="#053061"/><ellipse cx="300" cy="97" rx="28" ry="12" fill="#053061"/><ellipse cx="380" cy="80" rx="12" ry="14" fill="#053061"/><path d="M305,66C308,63 316,54 322,50C328,46 334,42 340,40C346,38 352,37 358,35C364,33 373,31 376,30" fill="none" stroke="#9d1128" stroke-width="14" stroke-linecap="round"/><ellipse cx="378" cy="38" rx="7" ry="9" fill="#67001f"/><ellipse cx="411" cy="120" rx="22" ry="20" fill="#195797"/><ellipse cx="441" cy="145" rx="12" ry="20" fill="#9d1128"/><ellipse cx="283" cy="208" rx="16" ry="16" fill="#053061"/><ellipse cx="258" cy="234" rx="22" ry="11" fill="#053061"/><ellipse cx="340" cy="150" rx="45" ry="30" fill="#f9c4a9" fill-opacity="0.8"/><ellipse cx="260" cy="150" rx="20" ry="25" fill="#dceaf2"/><ellipse cx="380" cy="250" rx="90" ry="55" fill="#f09b7a" fill-opacity="0.55"/><ellipse cx="391" cy="200" rx="15" ry="10" fill="#c1373a"/><ellipse cx="406" cy="230" rx="10" ry="5" fill="#c1373a"/><ellipse cx="368" cy="340" rx="18" ry="6" fill="#9d1128"/><ellipse cx="260" cy="280" rx="25" ry="20" fill="#b6d7e8"/><ellipse cx="440" cy="280" rx="25" ry="40" fill="#dceaf2"/></g>
<use href="#land"/>

</svg>
<div class="plab" style="left:302.6px;top:197.9px">(o)</div>
<div class="mon" style="left:333.4px;top:198.7px">AUG</div>
<svg class="map" style="left:294.6px;top:276.5px" width="107.5" height="81.9" viewBox="0 0 473 359" preserveAspectRatio="none">
<rect x="-30" y="-30" width="533" height="419" fill="#f4efec"/><rect x="-30" y="-30" width="533" height="419" filter="url(#nzA3)"/><rect x="-30" y="-30" width="533" height="419" filter="url(#nzS3)" clip-path="url(#bay)" opacity="0.45"/>
<g filter="url(#bl)"><ellipse cx="4" cy="32" rx="4" ry="8" fill="#9d1128"/><ellipse cx="107" cy="48" rx="8" ry="7" fill="#9d1128"/><ellipse cx="92" cy="42" rx="8" ry="7" fill="#3079b6"/><ellipse cx="135" cy="50" rx="10" ry="5" fill="#3079b6"/><ellipse cx="100" cy="205" rx="100" ry="25" fill="#b6d7e8" fill-opacity="0.55"/><ellipse cx="40" cy="310" rx="40" ry="18" fill="#b6d7e8" fill-opacity="0.5"/><ellipse cx="140" cy="272" rx="100" ry="28" fill="#f9c4a9" fill-opacity="0.6"/><ellipse cx="150" cy="278" rx="45" ry="6" fill="#f09b7a" fill-opacity="0.8"/><ellipse cx="75" cy="345" rx="75" ry="14" fill="#f9c4a9" fill-opacity="0.7"/><path d="M246,122C249,120 256,116 262,112C268,108 274,102 280,97C286,92 293,86 298,82C303,78 310,72 312,70" fill="none" stroke="#195797" stroke-width="16" stroke-linecap="round"/><path d="M272,116C276,112 290,102 298,94C306,86 312,77 320,70C328,63 335,56 345,50C355,44 372,37 378,34" fill="none" stroke="#9d1128" stroke-width="18" stroke-linecap="round"/><ellipse cx="345" cy="82" rx="38" ry="14" fill="#053061"/><ellipse cx="300" cy="110" rx="15" ry="10" fill="#195797"/><ellipse cx="351" cy="102" rx="14" ry="20" fill="#c1373a"/><ellipse cx="356" cy="125" rx="10" ry="14" fill="#3079b6"/><ellipse cx="423" cy="130" rx="20" ry="18" fill="#195797"/><ellipse cx="413" cy="110" rx="12" ry="10" fill="#9d1128"/><ellipse cx="456" cy="155" rx="10" ry="15" fill="#9d1128"/><ellipse cx="265" cy="222" rx="32" ry="26" fill="#053061"/><ellipse cx="305" cy="200" rx="22" ry="18" fill="#3079b6"/><ellipse cx="340" cy="250" rx="38" ry="8" fill="#4e9ac7"/><ellipse cx="378" cy="190" rx="30" ry="10" fill="#da6a55"/><ellipse cx="400" cy="210" rx="30" ry="20" fill="#f9c4a9"/><ellipse cx="386" cy="337" rx="25" ry="7" fill="#4e9ac7"/><ellipse cx="350" cy="300" rx="110" ry="40" fill="#f9c4a9" fill-opacity="0.6"/><ellipse cx="300" cy="150" rx="30" ry="25" fill="#f9c4a9" fill-opacity="0.5"/></g>
<use href="#land"/>

</svg>
<div class="plab" style="left:302.6px;top:285.3px">(p)</div>
<div class="mon" style="left:333.4px;top:286.1px">SEP</div>
<svg class="map" style="left:294.6px;top:363.9px" width="107.5" height="81.9" viewBox="0 0 473 359" preserveAspectRatio="none">
<rect x="-30" y="-30" width="533" height="419" fill="#eff1f4"/><rect x="-30" y="-30" width="533" height="419" filter="url(#nzA4)"/><rect x="-30" y="-30" width="533" height="419" filter="url(#nzS4)" clip-path="url(#bay)" opacity="0.7"/>
<g filter="url(#bl)"><ellipse cx="60" cy="210" rx="65" ry="30" fill="#b6d7e8" fill-opacity="0.7"/><ellipse cx="120" cy="50" rx="25" ry="9" fill="#195797"/><ellipse cx="145" cy="51" rx="6" ry="5" fill="#c1373a"/><ellipse cx="135" cy="122" rx="10" ry="13" fill="#3079b6"/><ellipse cx="138" cy="155" rx="11" ry="14" fill="#3079b6"/><ellipse cx="132" cy="82" rx="12" ry="12" fill="#f9c4a9"/><ellipse cx="112" cy="255" rx="40" ry="18" fill="#f9c4a9" fill-opacity="0.8"/><ellipse cx="48" cy="290" rx="18" ry="5" fill="#4e9ac7"/><ellipse cx="155" cy="220" rx="12" ry="28" fill="#3079b6"/><ellipse cx="210" cy="238" rx="26" ry="24" fill="#195797"/><path d="M248,165C248,161 246,147 246,140C246,133 244,126 246,122C248,118 254,115 256,114" fill="none" stroke="#053061" stroke-width="14" stroke-linecap="round"/><path d="M262,110C265,108 274,100 280,95C286,90 292,84 298,78C304,72 312,67 318,62C324,57 326,52 332,48C338,44 345,42 352,40C359,38 371,34 375,33" fill="none" stroke="#9d1128" stroke-width="20" stroke-linecap="round"/><path d="M268,124C273,121 290,111 300,106C310,101 321,95 330,92C339,89 351,87 355,86" fill="none" stroke="#195797" stroke-width="16" stroke-linecap="round"/><ellipse cx="391" cy="62" rx="14" ry="14" fill="#195797"/><ellipse cx="360" cy="70" rx="18" ry="8" fill="#c1373a"/><ellipse cx="370" cy="78" rx="18" ry="9" fill="#c1373a"/><ellipse cx="413" cy="110" rx="12" ry="10" fill="#9d1128"/><ellipse cx="428" cy="150" rx="16" ry="20" fill="#9d1128"/><ellipse cx="411" cy="125" rx="14" ry="8" fill="#3079b6"/><ellipse cx="330" cy="150" rx="45" ry="25" fill="#f09b7a" fill-opacity="0.5"/><ellipse cx="300" cy="140" rx="22" ry="22" fill="#4e9ac7"/><ellipse cx="265" cy="212" rx="30" ry="34" fill="#053061"/><ellipse cx="303" cy="205" rx="18" ry="15" fill="#195797"/><ellipse cx="321" cy="270" rx="15" ry="10" fill="#4e9ac7"/><path d="M251,280C259,281 284,286 300,288C316,290 335,291 350,292C365,293 384,295 391,296" fill="none" stroke="#9d1128" stroke-width="8" stroke-linecap="round"/><path d="M355,225C359,219 369,196 380,190C391,184 410,186 420,190C430,194 440,208 440,215C440,222 423,232 420,235" fill="none" stroke="#c1373a" stroke-width="6" stroke-linecap="round"/><ellipse cx="436" cy="227" rx="10" ry="7" fill="#3079b6"/><ellipse cx="350" cy="330" rx="120" ry="28" fill="#fbe3d5"/><ellipse cx="383" cy="338" rx="8" ry="6" fill="#c1373a"/><ellipse cx="200" cy="330" rx="80" ry="20" fill="#dceaf2"/></g>
<use href="#land"/>

</svg>
<div class="plab" style="left:302.6px;top:372.7px">(q)</div>
<div class="mon" style="left:333.4px;top:373.5px">OCT</div>
<svg class="map" style="left:294.6px;top:451.3px" width="107.5" height="81.9" viewBox="0 0 473 359" preserveAspectRatio="none">
<rect x="-30" y="-30" width="533" height="419" fill="#f3efee"/><rect x="-30" y="-30" width="533" height="419" filter="url(#nzA5)"/><rect x="-30" y="-30" width="533" height="419" filter="url(#nzS5)" clip-path="url(#bay)" opacity="0.7"/>
<g filter="url(#bl)"><ellipse cx="40" cy="120" rx="35" ry="40" fill="#f9c4a9" fill-opacity="0.5"/><ellipse cx="20" cy="200" rx="25" ry="20" fill="#f9c4a9" fill-opacity="0.5"/><ellipse cx="60" cy="250" rx="50" ry="20" fill="#f9c4a9" fill-opacity="0.5"/><ellipse cx="45" cy="300" rx="45" ry="15" fill="#b6d7e8" fill-opacity="0.6"/><ellipse cx="70" cy="180" rx="20" ry="30" fill="#b6d7e8" fill-opacity="0.5"/><ellipse cx="80" cy="22" rx="12" ry="25" fill="#4e9ac7"/><ellipse cx="125" cy="47" rx="22" ry="6" fill="#9d1128"/><ellipse cx="105" cy="37" rx="9" ry="6" fill="#195797"/><ellipse cx="122" cy="110" rx="11" ry="40" fill="#3079b6"/><ellipse cx="150" cy="130" rx="12" ry="20" fill="#da6a55"/><ellipse cx="126" cy="166" rx="10" ry="8" fill="#c1373a"/><ellipse cx="108" cy="140" rx="10" ry="10" fill="#3079b6"/><path d="M122,190C128,192 147,196 160,202C173,208 188,217 200,225C212,233 223,243 235,250C247,257 264,265 270,268" fill="none" stroke="#053061" stroke-width="32" stroke-linecap="round"/><path d="M135,222C142,227 162,242 180,252C198,262 221,275 240,282C259,289 286,290 295,292" fill="none" stroke="#3079b6" stroke-width="16" stroke-linecap="round"/><ellipse cx="225" cy="245" rx="25" ry="12" fill="#195797"/><ellipse cx="286" cy="196" rx="24" ry="34" fill="#053061"/><ellipse cx="300" cy="165" rx="14" ry="12" fill="#195797"/><path d="M252,110C251,114 248,127 247,135C246,143 246,152 245,160C244,168 243,174 240,180C237,186 230,190 228,196C226,202 226,212 226,215" fill="none" stroke="#67001f" stroke-width="11" stroke-linecap="round"/><path d="M252,112C255,110 262,104 268,100C274,96 280,92 285,88C290,84 294,80 300,76C306,72 312,67 318,62C324,57 329,50 335,46C341,42 348,40 355,38C362,36 372,33 376,32" fill="none" stroke="#67001f" stroke-width="12" stroke-linecap="round"/><ellipse cx="345" cy="48" rx="12" ry="6" fill="#195797"/><ellipse cx="318" cy="70" rx="10" ry="6" fill="#3079b6"/><ellipse cx="270" cy="245" rx="14" ry="12" fill="#67001f"/><ellipse cx="300" cy="240" rx="12" ry="10" fill="#3079b6"/><ellipse cx="332" cy="62" rx="15" ry="9" fill="#195797"/><ellipse cx="345" cy="110" rx="14" ry="20" fill="#3079b6"/><ellipse cx="341" cy="138" rx="12" ry="10" fill="#9d1128"/><ellipse cx="392" cy="118" rx="12" ry="22" fill="#195797"/><ellipse cx="422" cy="120" rx="16" ry="12" fill="#67001f"/><ellipse cx="443" cy="160" rx="10" ry="14" fill="#3079b6"/><ellipse cx="425" cy="215" rx="12" ry="18" fill="#9d1128"/><ellipse cx="300" cy="125" rx="15" ry="10" fill="#c1373a"/><ellipse cx="365" cy="150" rx="20" ry="12" fill="#4e9ac7"/><ellipse cx="390" cy="180" rx="15" ry="10" fill="#c1373a"/><ellipse cx="360" cy="90" rx="12" ry="10" fill="#da6a55"/><ellipse cx="400" cy="75" rx="8" ry="10" fill="#3079b6"/><ellipse cx="300" cy="290" rx="45" ry="5" fill="#c1373a"/><ellipse cx="370" cy="293" rx="35" ry="5" fill="#9d1128"/><ellipse cx="350" cy="308" rx="60" ry="6" fill="#4e9ac7"/><ellipse cx="343" cy="205" rx="30" ry="15" fill="#fbe3d5"/><ellipse cx="340" cy="245" rx="40" ry="25" fill="#b6d7e8"/><ellipse cx="400" cy="250" rx="30" ry="25" fill="#b6d7e8"/><ellipse cx="200" cy="335" rx="150" ry="18" fill="#fbe3d5"/><ellipse cx="380" cy="335" rx="80" ry="12" fill="#fbe3d5"/></g>
<use href="#land"/>

</svg>
<div class="plab" style="left:302.6px;top:460.1px">(r)</div>
<div class="mon" style="left:333.4px;top:460.9px">NOV</div>
<svg class="ov" width="473" height="550" viewBox="0 0 473 550"><rect x="26.00" y="14.30" width="107.50" height="81.90"/><rect x="26.00" y="101.70" width="107.50" height="81.90"/><rect x="26.00" y="189.10" width="107.50" height="81.90"/><rect x="26.00" y="276.50" width="107.50" height="81.90"/><rect x="26.00" y="363.90" width="107.50" height="81.90"/><rect x="26.00" y="451.30" width="107.50" height="81.90"/><rect x="160.30" y="14.30" width="107.50" height="81.90"/><rect x="160.30" y="101.70" width="107.50" height="81.90"/><rect x="160.30" y="189.10" width="107.50" height="81.90"/><rect x="160.30" y="276.50" width="107.50" height="81.90"/><rect x="160.30" y="363.90" width="107.50" height="81.90"/><rect x="160.30" y="451.30" width="107.50" height="81.90"/><rect x="294.60" y="14.30" width="107.50" height="81.90"/><rect x="294.60" y="101.70" width="107.50" height="81.90"/><rect x="294.60" y="189.10" width="107.50" height="81.90"/><rect x="294.60" y="276.50" width="107.50" height="81.90"/><rect x="294.60" y="363.90" width="107.50" height="81.90"/><rect x="294.60" y="451.30" width="107.50" height="81.90"/><path d="M26.00,82.55h1.4M26.00,68.90h1.4M26.00,55.25h1.4M26.00,41.60h1.4M26.00,27.95h1.4M39.44,96.20v-1.4M66.31,96.20v-1.4M93.19,96.20v-1.4M120.06,96.20v-1.4M26.00,169.95h1.4M26.00,156.30h1.4M26.00,142.65h1.4M26.00,129.00h1.4M26.00,115.35h1.4M39.44,183.60v-1.4M66.31,183.60v-1.4M93.19,183.60v-1.4M120.06,183.60v-1.4M26.00,257.35h1.4M26.00,243.70h1.4M26.00,230.05h1.4M26.00,216.40h1.4M26.00,202.75h1.4M39.44,271.00v-1.4M66.31,271.00v-1.4M93.19,271.00v-1.4M120.06,271.00v-1.4M26.00,344.75h1.4M26.00,331.10h1.4M26.00,317.45h1.4M26.00,303.80h1.4M26.00,290.15h1.4M39.44,358.40v-1.4M66.31,358.40v-1.4M93.19,358.40v-1.4M120.06,358.40v-1.4M26.00,432.15h1.4M26.00,418.50h1.4M26.00,404.85h1.4M26.00,391.20h1.4M26.00,377.55h1.4M39.44,445.80v-1.4M66.31,445.80v-1.4M93.19,445.80v-1.4M120.06,445.80v-1.4M26.00,519.55h1.4M26.00,505.90h1.4M26.00,492.25h1.4M26.00,478.60h1.4M26.00,464.95h1.4M39.44,533.20v-1.4M66.31,533.20v-1.4M93.19,533.20v-1.4M120.06,533.20v-1.4M160.30,82.55h1.4M160.30,68.90h1.4M160.30,55.25h1.4M160.30,41.60h1.4M160.30,27.95h1.4M173.74,96.20v-1.4M200.61,96.20v-1.4M227.49,96.20v-1.4M254.36,96.20v-1.4M160.30,169.95h1.4M160.30,156.30h1.4M160.30,142.65h1.4M160.30,129.00h1.4M160.30,115.35h1.4M173.74,183.60v-1.4M200.61,183.60v-1.4M227.49,183.60v-1.4M254.36,183.60v-1.4M160.30,257.35h1.4M160.30,243.70h1.4M160.30,230.05h1.4M160.30,216.40h1.4M160.30,202.75h1.4M173.74,271.00v-1.4M200.61,271.00v-1.4M227.49,271.00v-1.4M254.36,271.00v-1.4M160.30,344.75h1.4M160.30,331.10h1.4M160.30,317.45h1.4M160.30,303.80h1.4M160.30,290.15h1.4M173.74,358.40v-1.4M200.61,358.40v-1.4M227.49,358.40v-1.4M254.36,358.40v-1.4M160.30,432.15h1.4M160.30,418.50h1.4M160.30,404.85h1.4M160.30,391.20h1.4M160.30,377.55h1.4M173.74,445.80v-1.4M200.61,445.80v-1.4M227.49,445.80v-1.4M254.36,445.80v-1.4M160.30,519.55h1.4M160.30,505.90h1.4M160.30,492.25h1.4M160.30,478.60h1.4M160.30,464.95h1.4M173.74,533.20v-1.4M200.61,533.20v-1.4M227.49,533.20v-1.4M254.36,533.20v-1.4M294.60,82.55h1.4M294.60,68.90h1.4M294.60,55.25h1.4M294.60,41.60h1.4M294.60,27.95h1.4M308.04,96.20v-1.4M334.91,96.20v-1.4M361.79,96.20v-1.4M388.66,96.20v-1.4M294.60,169.95h1.4M294.60,156.30h1.4M294.60,142.65h1.4M294.60,129.00h1.4M294.60,115.35h1.4M308.04,183.60v-1.4M334.91,183.60v-1.4M361.79,183.60v-1.4M388.66,183.60v-1.4M294.60,257.35h1.4M294.60,243.70h1.4M294.60,230.05h1.4M294.60,216.40h1.4M294.60,202.75h1.4M308.04,271.00v-1.4M334.91,271.00v-1.4M361.79,271.00v-1.4M388.66,271.00v-1.4M294.60,344.75h1.4M294.60,331.10h1.4M294.60,317.45h1.4M294.60,303.80h1.4M294.60,290.15h1.4M308.04,358.40v-1.4M334.91,358.40v-1.4M361.79,358.40v-1.4M388.66,358.40v-1.4M294.60,432.15h1.4M294.60,418.50h1.4M294.60,404.85h1.4M294.60,391.20h1.4M294.60,377.55h1.4M308.04,445.80v-1.4M334.91,445.80v-1.4M361.79,445.80v-1.4M388.66,445.80v-1.4M294.60,519.55h1.4M294.60,505.90h1.4M294.60,492.25h1.4M294.60,478.60h1.4M294.60,464.95h1.4M308.04,533.20v-1.4M334.91,533.20v-1.4M361.79,533.20v-1.4M388.66,533.20v-1.4" stroke="#333" stroke-width="0.9" fill="none"/></svg>
<div class="ttl" style="left:75.3px;top:0.6px;width:200px;margin-left:-100px">tendency</div>
<div class="ttl" style="left:217.1px;top:0.6px;width:200px;margin-left:-100px">freshwater flux</div>
<div class="ttl" style="left:351.0px;top:0.6px;width:200px;margin-left:-100px">horizontal advection</div>
<div class="yl" style="right:449.6px;top:22.7px">20<sup>o</sup>N</div>
<div class="yl" style="right:449.6px;top:36.3px">15<sup>o</sup>N</div>
<div class="yl" style="right:449.6px;top:50.0px">10<sup>o</sup>N</div>
<div class="yl" style="right:449.6px;top:63.6px">5<sup>o</sup>N</div>
<div class="yl" style="right:451.9px;top:77.3px">0<sup>o</sup></div>
<div class="yl" style="right:449.6px;top:110.1px">20<sup>o</sup>N</div>
<div class="yl" style="right:449.6px;top:123.7px">15<sup>o</sup>N</div>
<div class="yl" style="right:449.6px;top:137.3px">10<sup>o</sup>N</div>
<div class="yl" style="right:449.6px;top:151.0px">5<sup>o</sup>N</div>
<div class="yl" style="right:451.9px;top:164.7px">0<sup>o</sup></div>
<div class="yl" style="right:449.6px;top:197.5px">20<sup>o</sup>N</div>
<div class="yl" style="right:449.6px;top:211.1px">15<sup>o</sup>N</div>
<div class="yl" style="right:449.6px;top:224.8px">10<sup>o</sup>N</div>
<div class="yl" style="right:449.6px;top:238.4px">5<sup>o</sup>N</div>
<div class="yl" style="right:451.9px;top:252.1px">0<sup>o</sup></div>
<div class="yl" style="right:449.6px;top:284.9px">20<sup>o</sup>N</div>
<div class="yl" style="right:449.6px;top:298.5px">15<sup>o</sup>N</div>
<div class="yl" style="right:449.6px;top:312.2px">10<sup>o</sup>N</div>
<div class="yl" style="right:449.6px;top:325.8px">5<sup>o</sup>N</div>
<div class="yl" style="right:451.9px;top:339.5px">0<sup>o</sup></div>
<div class="yl" style="right:449.6px;top:372.2px">20<sup>o</sup>N</div>
<div class="yl" style="right:449.6px;top:385.9px">15<sup>o</sup>N</div>
<div class="yl" style="right:449.6px;top:399.6px">10<sup>o</sup>N</div>
<div class="yl" style="right:449.6px;top:413.2px">5<sup>o</sup>N</div>
<div class="yl" style="right:451.9px;top:426.9px">0<sup>o</sup></div>
<div class="yl" style="right:449.6px;top:459.6px">20<sup>o</sup>N</div>
<div class="yl" style="right:449.6px;top:473.3px">15<sup>o</sup>N</div>
<div class="yl" style="right:449.6px;top:486.9px">10<sup>o</sup>N</div>
<div class="yl" style="right:449.6px;top:500.6px">5<sup>o</sup>N</div>
<div class="yl" style="right:451.9px;top:514.3px">0<sup>o</sup></div>
<div class="xl" style="left:10.9px;top:534.7px">65<sup>o</sup>E</div>
<div class="xl" style="left:37.8px;top:534.7px">75<sup>o</sup>E</div>
<div class="xl" style="left:64.7px;top:534.7px">85<sup>o</sup>E</div>
<div class="xl" style="left:91.6px;top:534.7px">95<sup>o</sup>E</div>
<div class="xl" style="left:145.2px;top:534.7px">65<sup>o</sup>E</div>
<div class="xl" style="left:172.1px;top:534.7px">75<sup>o</sup>E</div>
<div class="xl" style="left:199.0px;top:534.7px">85<sup>o</sup>E</div>
<div class="xl" style="left:225.9px;top:534.7px">95<sup>o</sup>E</div>
<div class="xl" style="left:279.5px;top:534.7px">65<sup>o</sup>E</div>
<div class="xl" style="left:306.4px;top:534.7px">75<sup>o</sup>E</div>
<div class="xl" style="left:333.3px;top:534.7px">85<sup>o</sup>E</div>
<div class="xl" style="left:360.2px;top:534.7px">95<sup>o</sup>E</div>
<svg class="cbs" width="473" height="550" viewBox="0 0 473 550">
<rect x="432.20" y="63.900" width="17.10" height="28.000" fill="#67001f"/>
<rect x="432.20" y="91.880" width="17.10" height="28.000" fill="#9d1128"/>
<rect x="432.20" y="119.860" width="17.10" height="28.000" fill="#c1373a"/>
<rect x="432.20" y="147.840" width="17.10" height="28.000" fill="#da6a55"/>
<rect x="432.20" y="175.820" width="17.10" height="28.000" fill="#f09b7a"/>
<rect x="432.20" y="203.800" width="17.10" height="28.000" fill="#f9c4a9"/>
<rect x="432.20" y="231.780" width="17.10" height="28.000" fill="#fbe3d5"/>
<rect x="432.20" y="259.760" width="17.10" height="28.000" fill="#f7f7f7"/>
<rect x="432.20" y="287.740" width="17.10" height="28.000" fill="#dceaf2"/>
<rect x="432.20" y="315.720" width="17.10" height="28.000" fill="#b6d7e8"/>
<rect x="432.20" y="343.700" width="17.10" height="28.000" fill="#87beda"/>
<rect x="432.20" y="371.680" width="17.10" height="28.000" fill="#4e9ac7"/>
<rect x="432.20" y="399.660" width="17.10" height="28.000" fill="#3079b6"/>
<rect x="432.20" y="427.640" width="17.10" height="28.000" fill="#195797"/>
<rect x="432.20" y="455.620" width="17.10" height="28.000" fill="#053061"/>
<rect x="432.20" y="63.90" width="17.10" height="419.70" fill="none" stroke="#a0a0a0" stroke-width="0.5"/>
<line x1="444.50" x2="449.30" y1="63.90" y2="63.90" stroke="#777" stroke-width="0.6"/>
<line x1="444.50" x2="449.30" y1="133.85" y2="133.85" stroke="#777" stroke-width="0.6"/>
<line x1="444.50" x2="449.30" y1="203.80" y2="203.80" stroke="#777" stroke-width="0.6"/>
<line x1="444.50" x2="449.30" y1="273.75" y2="273.75" stroke="#777" stroke-width="0.6"/>
<line x1="444.50" x2="449.30" y1="343.70" y2="343.70" stroke="#777" stroke-width="0.6"/>
<line x1="444.50" x2="449.30" y1="413.65" y2="413.65" stroke="#777" stroke-width="0.6"/>
<line x1="444.50" x2="449.30" y1="483.60" y2="483.60" stroke="#777" stroke-width="0.6"/>
</svg>
<div class="cbt" style="left:451.6px;top:56.9px">1.5</div>
<div class="cbt" style="left:451.6px;top:126.8px">1</div>
<div class="cbt" style="left:451.6px;top:196.8px">0.5</div>
<div class="cbt" style="left:451.6px;top:266.8px">0</div>
<div class="cbt" style="left:451.6px;top:336.7px">−0.5</div>
<div class="cbt" style="left:451.6px;top:406.6px">−1</div>
<div class="cbt" style="left:451.6px;top:476.6px">−1.5</div>
<div class="blu" style="left:79.5px;top:54.3px;font-size:11px;-webkit-text-stroke:0.3px #1a1ae6">1</div>
<div class="red" style="left:104px;top:28.5px;font-size:10.2px;-webkit-text-stroke:0.35px #e61a1a">2</div>
<div class="red" style="left:187.5px;top:27.5px;font-size:5.5px;line-height:6px">D</div>
<div class="red" style="left:196.5px;top:56.0px;font-size:5.5px;line-height:6px">C</div>
<div class="red" style="left:218.0px;top:40.0px;font-size:5.5px;line-height:6px">B</div>
<div class="red" style="left:242.0px;top:25.2px;font-size:5.5px;line-height:6px">A</div>
</body></html>
